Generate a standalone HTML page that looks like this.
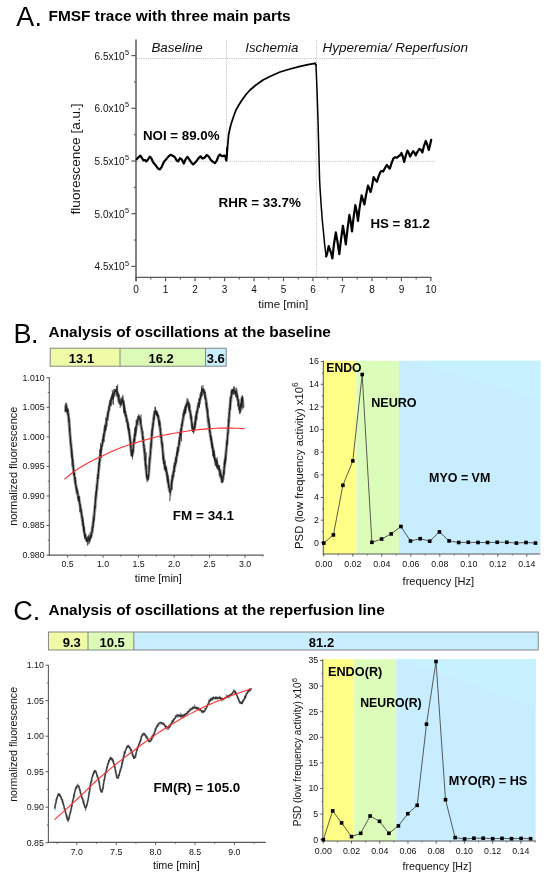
<!DOCTYPE html>
<html><head><meta charset="utf-8"><title>FMSF figure</title>
<style>html,body{margin:0;padding:0;background:#fff;width:550px;height:879px;overflow:hidden}
svg{display:block}
</style></head><body>
<svg width="550" height="879" viewBox="0 0 550 879" font-family="'Liberation Sans', Arial, Helvetica, sans-serif">
<text x="16.3" y="25.7" font-size="27" fill="#000">A</text>
<text x="34.5" y="25.7" font-size="27" fill="#000">.</text>
<text x="48.6" y="20.6" font-size="15.4" font-weight="bold" fill="#000">FMSF trace with three main parts</text>
<line x1="137" y1="58.5" x2="436" y2="58.5" stroke="#b5b5b5" stroke-width="0.9" stroke-dasharray="1,1.2"/>
<line x1="137" y1="161.3" x2="436" y2="161.3" stroke="#b5b5b5" stroke-width="0.9" stroke-dasharray="1,1.2"/>
<line x1="226.5" y1="40" x2="226.5" y2="161.3" stroke="#b5b5b5" stroke-width="0.9" stroke-dasharray="1,1.2"/>
<line x1="316.4" y1="40" x2="316.4" y2="277" stroke="#b5b5b5" stroke-width="0.9" stroke-dasharray="1,1.2"/>
<line x1="136" y1="39.5" x2="136" y2="281.3" stroke="#6e6e6e" stroke-width="1.7"/>
<line x1="135.6" y1="277.3" x2="431.4" y2="277.3" stroke="#5a5a5a" stroke-width="1.3"/>
<line x1="131.4" y1="55.6" x2="136.2" y2="55.6" stroke="#5a5a5a" stroke-width="1.2"/>
<text x="124.6" y="59.6" font-size="10" text-anchor="end" fill="#111">6.5x10</text>
<text x="125.0" y="54.7" font-size="7.4" fill="#111">5</text>
<line x1="131.4" y1="108.3" x2="136.2" y2="108.3" stroke="#5a5a5a" stroke-width="1.2"/>
<text x="124.6" y="112.3" font-size="10" text-anchor="end" fill="#111">6.0x10</text>
<text x="125.0" y="107.4" font-size="7.4" fill="#111">5</text>
<line x1="131.4" y1="161" x2="136.2" y2="161" stroke="#5a5a5a" stroke-width="1.2"/>
<text x="124.6" y="165" font-size="10" text-anchor="end" fill="#111">5.5x10</text>
<text x="125.0" y="160.1" font-size="7.4" fill="#111">5</text>
<line x1="131.4" y1="213.7" x2="136.2" y2="213.7" stroke="#5a5a5a" stroke-width="1.2"/>
<text x="124.6" y="217.7" font-size="10" text-anchor="end" fill="#111">5.0x10</text>
<text x="125.0" y="212.8" font-size="7.4" fill="#111">5</text>
<line x1="131.4" y1="266.4" x2="136.2" y2="266.4" stroke="#5a5a5a" stroke-width="1.2"/>
<text x="124.6" y="270.4" font-size="10" text-anchor="end" fill="#111">4.5x10</text>
<text x="125.0" y="265.5" font-size="7.4" fill="#111">5</text>
<line x1="133.9" y1="81.95" x2="136.2" y2="81.95" stroke="#5a5a5a" stroke-width="1.1"/>
<line x1="133.9" y1="134.65" x2="136.2" y2="134.65" stroke="#5a5a5a" stroke-width="1.1"/>
<line x1="133.9" y1="187.35" x2="136.2" y2="187.35" stroke="#5a5a5a" stroke-width="1.1"/>
<line x1="133.9" y1="240.05" x2="136.2" y2="240.05" stroke="#5a5a5a" stroke-width="1.1"/>
<line x1="136.1" y1="277.3" x2="136.1" y2="281.3" stroke="#5a5a5a" stroke-width="1.2"/>
<text x="136.1" y="293.1" font-size="10" text-anchor="middle" fill="#111">0</text>
<line x1="165.58" y1="277.3" x2="165.58" y2="281.3" stroke="#5a5a5a" stroke-width="1.2"/>
<text x="165.58" y="293.1" font-size="10" text-anchor="middle" fill="#111">1</text>
<line x1="195.06" y1="277.3" x2="195.06" y2="281.3" stroke="#5a5a5a" stroke-width="1.2"/>
<text x="195.06" y="293.1" font-size="10" text-anchor="middle" fill="#111">2</text>
<line x1="224.54" y1="277.3" x2="224.54" y2="281.3" stroke="#5a5a5a" stroke-width="1.2"/>
<text x="224.54" y="293.1" font-size="10" text-anchor="middle" fill="#111">3</text>
<line x1="254.02" y1="277.3" x2="254.02" y2="281.3" stroke="#5a5a5a" stroke-width="1.2"/>
<text x="254.02" y="293.1" font-size="10" text-anchor="middle" fill="#111">4</text>
<line x1="283.5" y1="277.3" x2="283.5" y2="281.3" stroke="#5a5a5a" stroke-width="1.2"/>
<text x="283.5" y="293.1" font-size="10" text-anchor="middle" fill="#111">5</text>
<line x1="312.98" y1="277.3" x2="312.98" y2="281.3" stroke="#5a5a5a" stroke-width="1.2"/>
<text x="312.98" y="293.1" font-size="10" text-anchor="middle" fill="#111">6</text>
<line x1="342.46" y1="277.3" x2="342.46" y2="281.3" stroke="#5a5a5a" stroke-width="1.2"/>
<text x="342.46" y="293.1" font-size="10" text-anchor="middle" fill="#111">7</text>
<line x1="371.94" y1="277.3" x2="371.94" y2="281.3" stroke="#5a5a5a" stroke-width="1.2"/>
<text x="371.94" y="293.1" font-size="10" text-anchor="middle" fill="#111">8</text>
<line x1="401.42" y1="277.3" x2="401.42" y2="281.3" stroke="#5a5a5a" stroke-width="1.2"/>
<text x="401.42" y="293.1" font-size="10" text-anchor="middle" fill="#111">9</text>
<line x1="430.9" y1="277.3" x2="430.9" y2="281.3" stroke="#5a5a5a" stroke-width="1.2"/>
<text x="430.9" y="293.1" font-size="10" text-anchor="middle" fill="#111">10</text>
<line x1="150.84" y1="277.3" x2="150.84" y2="279.5" stroke="#5a5a5a" stroke-width="1.1"/>
<line x1="180.32" y1="277.3" x2="180.32" y2="279.5" stroke="#5a5a5a" stroke-width="1.1"/>
<line x1="209.8" y1="277.3" x2="209.8" y2="279.5" stroke="#5a5a5a" stroke-width="1.1"/>
<line x1="239.28" y1="277.3" x2="239.28" y2="279.5" stroke="#5a5a5a" stroke-width="1.1"/>
<line x1="268.76" y1="277.3" x2="268.76" y2="279.5" stroke="#5a5a5a" stroke-width="1.1"/>
<line x1="298.24" y1="277.3" x2="298.24" y2="279.5" stroke="#5a5a5a" stroke-width="1.1"/>
<line x1="327.72" y1="277.3" x2="327.72" y2="279.5" stroke="#5a5a5a" stroke-width="1.1"/>
<line x1="357.2" y1="277.3" x2="357.2" y2="279.5" stroke="#5a5a5a" stroke-width="1.1"/>
<line x1="386.68" y1="277.3" x2="386.68" y2="279.5" stroke="#5a5a5a" stroke-width="1.1"/>
<line x1="416.16" y1="277.3" x2="416.16" y2="279.5" stroke="#5a5a5a" stroke-width="1.1"/>
<text x="283.3" y="307.5" font-size="11.55" text-anchor="middle" fill="#111">time [min]</text>
<text transform="translate(80.0,158.9) rotate(-90)" font-size="13.6" text-anchor="middle" fill="#111">fluorescence [a.u.]</text>
<text x="151.4" y="52.1" font-size="13.4" font-style="italic" fill="#111">Baseline</text>
<text x="245.2" y="52.3" font-size="13.3" font-style="italic" fill="#111">Ischemia</text>
<text x="322.4" y="52" font-size="13.5" font-style="italic" fill="#111">Hyperemia/ Reperfusion</text>
<text x="143" y="139.5" font-size="13.3" font-weight="bold" fill="#000">NOI = 89.0%</text>
<text x="218.6" y="206.9" font-size="13.4" font-weight="bold" fill="#000">RHR = 33.7%</text>
<text x="370.4" y="227.5" font-size="13.3" font-weight="bold" fill="#000">HS = 81.2</text>
<polyline points="136.7,159.1 138.1,157.7 140.4,155.7 141.7,157.7 143.5,160.5 144.9,160 146.3,161.4 147.6,160 149.9,156.6 151.3,158.2 153.1,162.3 155.8,165.5 158.1,168.6 159.9,169.4 161.7,166.8 164,161.8 166.3,159.1 169,155.9 170.8,154.8 173.1,155.9 174.9,157.3 176.7,160.5 178.1,161.4 179.9,158.2 181.8,159.5 183.8,163.6 185.5,159.5 187.3,156.8 189.1,159.1 191.4,162.7 193.2,164.4 195.5,162.3 198.2,158.6 200.5,156.4 202.7,158.6 204.5,157.7 206.8,155 208.6,156.4 210.5,159.5 212.7,161.6 215,163.2 216.8,160.5 218.6,155.9 220,154.5 221.4,155.9 222.7,156.2 224.1,155.5 225.5,156.4 225.9,159.5 226.4,160.5 226.8,155.5 227.3,148" fill="none" stroke="#000" stroke-width="2.2" stroke-linejoin="round" stroke-linecap="round"/>
<polyline points="226.8,155.5 227.3,148 227.7,145.5 228.1,141 228.6,135 229.6,130 230.8,125 232.4,120 234.1,115 236,110 238.8,105 242,100 246.4,94 250,90 256,85 263,80 271,76 280,72 290,69 300,66.4 308,64.6 315,63.3 316,65" fill="none" stroke="#000" stroke-width="1.75" stroke-linejoin="round" stroke-linecap="round"/>
<polyline points="315,63.3 316,65 317,90 318,120 318.8,150 319.6,180 320.2,190.9 321.3,207.3 322.4,221.5 323.5,232.4 324.5,243.3 325.6,252 326.2,256.4" fill="none" stroke="#000" stroke-width="1.5" stroke-linejoin="round" stroke-linecap="round"/>
<polyline points="326.2,256.4 327.3,253.1 328.7,246 330,249.8 331.1,253.1 332.4,258.5 333.8,245.5 335.8,232.4 337.4,241.1 339.3,254.2 341.1,238.9 342.9,225.8 344.4,234.5 345.8,244.4 347.5,229.1 349.4,214.9 350.7,221.5 352,231.3 353.5,218.2 355.3,205.1 356.7,211.6 358,220.9 359.5,208.4 361.6,195.3 362.9,199.6 364.4,204.5 366,195.3 368,185.5 369.3,188.7 370.6,192 372,186.5 373.6,177 375.4,180 377,181.8 378.6,176.4 380.6,171.6 382,171 383.2,171.6 385,168 386.8,165 388.6,167.4 389.8,168.6 391.6,163.2 393.4,158.4 395.2,157.2 397,157.8 398.8,156 400,155.4 401.4,153 402.6,156 404.2,162 405.8,155.4 407.4,150.6 409,153.6 410.2,156.6 412,153 413.2,151.2 414.6,153 415.8,155.4 417.4,151.8 419.4,148.8 421,150 422.4,152.4 424,145.8 425.8,141 427.4,145.2 428.8,150 430,145.2 431.2,139.8" fill="none" stroke="#000" stroke-width="2.2" stroke-linejoin="round" stroke-linecap="round"/>
<text x="13.6" y="342.5" font-size="27" fill="#000">B</text>
<text x="31.1" y="342.5" font-size="27" fill="#000">.</text>
<text x="48.6" y="336.6" font-size="15.4" font-weight="bold" fill="#000">Analysis of oscillations at the baseline</text>
<rect x="50.2" y="348.2" width="69.8" height="18" fill="#effba6" stroke="none" stroke-width="0"/>
<rect x="120" y="348.2" width="85.5" height="18" fill="#dcfbb9" stroke="none" stroke-width="0"/>
<rect x="205.5" y="348.2" width="20.7" height="18" fill="#c8edfd" stroke="none" stroke-width="0"/>
<rect x="50.2" y="348.2" width="176" height="18" fill="none" stroke="#7a7a7a" stroke-width="0.9"/>
<line x1="120" y1="348.2" x2="120" y2="366.2" stroke="#7a7a7a" stroke-width="0.9"/>
<line x1="205.5" y1="348.2" x2="205.5" y2="366.2" stroke="#7a7a7a" stroke-width="0.9"/>
<text x="81.5" y="362.5" font-size="13" font-weight="bold" text-anchor="middle" fill="#000">13.1</text>
<text x="161.2" y="362.5" font-size="13" font-weight="bold" text-anchor="middle" fill="#000">16.2</text>
<text x="215.8" y="362.5" font-size="13" font-weight="bold" text-anchor="middle" fill="#000">3.6</text>
<line x1="49.3" y1="377" x2="49.3" y2="555.7" stroke="#5a5a5a" stroke-width="1.1"/>
<line x1="48.8" y1="555.1" x2="263.6" y2="555.1" stroke="#5a5a5a" stroke-width="1.1"/>
<line x1="46.5" y1="555.1" x2="49.3" y2="555.1" stroke="#5a5a5a" stroke-width="1.0"/>
<text x="44.6" y="557.9" font-size="8.8" text-anchor="end" fill="#111">0.980</text>
<line x1="46.5" y1="525.53" x2="49.3" y2="525.53" stroke="#5a5a5a" stroke-width="1.0"/>
<text x="44.6" y="528.33" font-size="8.8" text-anchor="end" fill="#111">0.985</text>
<line x1="46.5" y1="495.97" x2="49.3" y2="495.97" stroke="#5a5a5a" stroke-width="1.0"/>
<text x="44.6" y="498.77" font-size="8.8" text-anchor="end" fill="#111">0.990</text>
<line x1="46.5" y1="466.4" x2="49.3" y2="466.4" stroke="#5a5a5a" stroke-width="1.0"/>
<text x="44.6" y="469.2" font-size="8.8" text-anchor="end" fill="#111">0.995</text>
<line x1="46.5" y1="436.84" x2="49.3" y2="436.84" stroke="#5a5a5a" stroke-width="1.0"/>
<text x="44.6" y="439.64" font-size="8.8" text-anchor="end" fill="#111">1.000</text>
<line x1="46.5" y1="407.28" x2="49.3" y2="407.28" stroke="#5a5a5a" stroke-width="1.0"/>
<text x="44.6" y="410.08" font-size="8.8" text-anchor="end" fill="#111">1.005</text>
<line x1="46.5" y1="377.71" x2="49.3" y2="377.71" stroke="#5a5a5a" stroke-width="1.0"/>
<text x="44.6" y="380.51" font-size="8.8" text-anchor="end" fill="#111">1.010</text>
<line x1="47.8" y1="540.32" x2="49.3" y2="540.32" stroke="#5a5a5a" stroke-width="0.9"/>
<line x1="47.8" y1="510.75" x2="49.3" y2="510.75" stroke="#5a5a5a" stroke-width="0.9"/>
<line x1="47.8" y1="481.19" x2="49.3" y2="481.19" stroke="#5a5a5a" stroke-width="0.9"/>
<line x1="47.8" y1="451.62" x2="49.3" y2="451.62" stroke="#5a5a5a" stroke-width="0.9"/>
<line x1="47.8" y1="422.06" x2="49.3" y2="422.06" stroke="#5a5a5a" stroke-width="0.9"/>
<line x1="47.8" y1="392.49" x2="49.3" y2="392.49" stroke="#5a5a5a" stroke-width="0.9"/>
<line x1="67.6" y1="555.1" x2="67.6" y2="557.7" stroke="#5a5a5a" stroke-width="1.0"/>
<text x="67.6" y="567.2" font-size="8.8" text-anchor="middle" fill="#111">0.5</text>
<line x1="103.1" y1="555.1" x2="103.1" y2="557.7" stroke="#5a5a5a" stroke-width="1.0"/>
<text x="103.1" y="567.2" font-size="8.8" text-anchor="middle" fill="#111">1.0</text>
<line x1="138.6" y1="555.1" x2="138.6" y2="557.7" stroke="#5a5a5a" stroke-width="1.0"/>
<text x="138.6" y="567.2" font-size="8.8" text-anchor="middle" fill="#111">1.5</text>
<line x1="174.1" y1="555.1" x2="174.1" y2="557.7" stroke="#5a5a5a" stroke-width="1.0"/>
<text x="174.1" y="567.2" font-size="8.8" text-anchor="middle" fill="#111">2.0</text>
<line x1="209.6" y1="555.1" x2="209.6" y2="557.7" stroke="#5a5a5a" stroke-width="1.0"/>
<text x="209.6" y="567.2" font-size="8.8" text-anchor="middle" fill="#111">2.5</text>
<line x1="245.1" y1="555.1" x2="245.1" y2="557.7" stroke="#5a5a5a" stroke-width="1.0"/>
<text x="245.1" y="567.2" font-size="8.8" text-anchor="middle" fill="#111">3.0</text>
<line x1="85.35" y1="555.1" x2="85.35" y2="556.6" stroke="#5a5a5a" stroke-width="0.9"/>
<line x1="120.85" y1="555.1" x2="120.85" y2="556.6" stroke="#5a5a5a" stroke-width="0.9"/>
<line x1="156.35" y1="555.1" x2="156.35" y2="556.6" stroke="#5a5a5a" stroke-width="0.9"/>
<line x1="191.85" y1="555.1" x2="191.85" y2="556.6" stroke="#5a5a5a" stroke-width="0.9"/>
<line x1="227.35" y1="555.1" x2="227.35" y2="556.6" stroke="#5a5a5a" stroke-width="0.9"/>
<line x1="262.85" y1="555.1" x2="262.85" y2="556.6" stroke="#5a5a5a" stroke-width="0.9"/>
<text x="158.3" y="582.4" font-size="10.9" text-anchor="middle" fill="#111">time [min]</text>
<text transform="translate(16.9,466.2) rotate(-90)" font-size="11" text-anchor="middle" fill="#111">normalized fluorescence</text>
<polyline points="65.6,411.13 65.74,408.7 65.88,406.67 66.02,405.45 66.16,405.33 66.3,405.74 66.44,406.41 66.58,407.26 66.72,408.18 66.86,409.07 67,409.84 67.14,410.47 67.28,411.05 67.42,411.59 67.56,412.1 67.7,412.61 67.84,413.14 67.98,413.72 68.12,414.36 68.26,415.11 68.4,416.05 68.54,417.18 68.68,418.49 68.82,419.94 68.96,421.52 69.1,423.2 69.24,424.95 69.38,426.76 69.52,428.59 69.66,430.42 69.8,432.22 69.94,433.96 70.08,435.62 70.22,437.16 70.36,438.66 70.5,440.14 70.64,441.62 70.78,443.09 70.92,444.54 71.06,445.98 71.2,447.41 71.34,448.83 71.48,450.24 71.62,451.63 71.76,453.01 71.9,454.38 72.04,455.74 72.18,457.09 72.32,458.42 72.46,459.75 72.6,461.08 72.74,462.41 72.88,463.72 73.02,465.03 73.16,466.31 73.3,467.58 73.44,468.82 73.58,470.03 73.72,471.21 73.86,472.36 74,473.46 74.14,474.51 74.28,475.53 74.42,476.49 74.56,477.43 74.7,478.34 74.84,479.23 74.98,480.09 75.12,480.93 75.26,481.75 75.4,482.55 75.54,483.33 75.68,484.1 75.82,484.86 75.96,485.6 76.1,486.33 76.24,487.04 76.38,487.74 76.52,488.42 76.66,489.1 76.8,489.76 76.94,490.42 77.08,491.08 77.22,491.74 77.36,492.4 77.5,493.06 77.64,493.72 77.78,494.37 77.92,495.02 78.06,495.68 78.2,496.33 78.34,496.99 78.48,497.66 78.62,498.34 78.76,499.01 78.9,499.7 79.04,500.39 79.18,501.08 79.32,501.78 79.46,502.48 79.6,503.18 79.74,503.89 79.88,504.6 80.02,505.32 80.16,506.04 80.3,506.78 80.44,507.53 80.58,508.3 80.72,509.1 80.86,509.94 81,510.81 81.14,511.71 81.28,512.63 81.42,513.58 81.56,514.54 81.7,515.53 81.84,516.52 81.98,517.52 82.12,518.53 82.26,519.53 82.4,520.52 82.54,521.49 82.68,522.45 82.82,523.37 82.96,524.27 83.1,525.13 83.24,525.99 83.38,526.86 83.52,527.71 83.66,528.56 83.8,529.39 83.94,530.2 84.08,530.98 84.22,531.74 84.36,532.46 84.5,533.15 84.64,533.8 84.78,534.41 84.92,534.97 85.06,535.49 85.2,535.96 85.34,536.38 85.48,536.79 85.62,537.19 85.76,537.58 85.9,537.97 86.04,538.35 86.18,538.7 86.32,539.04 86.46,539.36 86.6,539.65 86.74,539.9 86.88,540.13 87.02,540.32 87.16,540.47 87.3,540.58 87.44,540.64 87.58,540.66 87.72,540.63 87.86,540.56 88,540.46 88.14,540.36 88.28,540.25 88.42,540.13 88.56,540 88.7,539.86 88.84,539.72 88.98,539.56 89.12,539.39 89.26,539.22 89.4,539.04 89.54,538.85 89.68,538.67 89.82,538.49 89.96,538.32 90.1,538.15 90.24,538 90.38,537.87 90.52,537.7 90.66,537.45 90.8,537.11 90.94,536.69 91.08,536.2 91.22,535.64 91.36,535.02 91.5,534.34 91.64,533.61 91.78,532.83 91.92,532.01 92.06,531.16 92.2,530.29 92.34,529.41 92.48,528.52 92.62,527.65 92.76,526.73 92.9,525.73 93.04,524.67 93.18,523.56 93.32,522.4 93.46,521.2 93.6,519.96 93.74,518.71 93.88,517.43 94.02,516.14 94.16,514.84 94.3,513.55 94.44,512.26 94.58,510.97 94.72,509.65 94.86,508.3 95,506.92 95.14,505.51 95.28,504.08 95.42,502.63 95.56,501.16 95.7,499.69 95.84,498.21 95.98,496.73 96.12,495.25 96.26,493.78 96.4,492.33 96.54,490.89 96.68,489.47 96.82,488.06 96.96,486.63 97.1,485.21 97.24,483.8 97.38,482.39 97.52,480.98 97.66,479.58 97.8,478.19 97.94,476.81 98.08,475.43 98.22,474.06 98.36,472.7 98.5,471.35 98.64,470.01 98.78,468.67 98.92,467.35 99.06,466.05 99.2,464.76 99.34,463.48 99.48,462.21 99.62,460.95 99.76,459.7 99.9,458.47 100.04,457.28 100.18,456.11 100.32,454.98 100.46,453.89 100.6,452.85 100.74,451.86 100.88,450.92 101.02,450.03 101.16,449.2 101.3,448.42 101.44,447.68 101.58,446.96 101.72,446.27 101.86,445.6 102,444.95 102.14,444.29 102.28,443.65 102.42,442.99 102.56,442.33 102.7,441.66 102.84,440.98 102.98,440.28 103.12,439.57 103.26,438.84 103.4,438.11 103.54,437.36 103.68,436.6 103.82,435.83 103.96,435.05 104.1,434.27 104.24,433.49 104.38,432.72 104.52,431.95 104.66,431.19 104.8,430.44 104.94,429.69 105.08,428.95 105.22,428.22 105.36,427.49 105.5,426.77 105.64,426.05 105.78,425.34 105.92,424.63 106.06,423.92 106.2,423.22 106.34,422.51 106.48,421.8 106.62,421.09 106.76,420.37 106.9,419.64 107.04,418.91 107.18,418.17 107.32,417.42 107.46,416.66 107.6,415.9 107.74,415.14 107.88,414.38 108.02,413.62 108.16,412.88 108.3,412.15 108.44,411.43 108.58,410.72 108.72,410.02 108.86,409.34 109,408.67 109.14,408.02 109.28,407.37 109.42,406.73 109.56,406.1 109.7,405.48 109.84,404.88 109.98,404.29 110.12,403.71 110.26,403.15 110.4,402.6 110.54,402.06 110.68,401.52 110.82,401 110.96,400.5 111.1,400.01 111.24,399.54 111.38,399.09 111.52,398.66 111.66,398.24 111.8,397.85 111.94,397.46 112.08,397.1 112.22,396.75 112.36,396.41 112.5,396.09 112.64,395.78 112.78,395.48 112.92,395.2 113.06,394.93 113.2,394.68 113.34,394.44 113.48,394.19 113.62,393.92 113.76,393.65 113.9,393.36 114.04,393.07 114.18,392.77 114.32,392.47 114.46,392.17 114.6,391.87 114.74,391.58 114.88,391.3 115.02,391.04 115.16,390.81 115.3,390.6 115.44,390.43 115.58,390.3 115.72,390.22 115.86,390.21 116,390.26 116.14,390.38 116.28,390.55 116.42,390.78 116.56,391.06 116.7,391.39 116.84,391.75 116.98,392.14 117.12,392.55 117.26,392.97 117.4,393.4 117.54,393.83 117.68,394.26 117.82,394.67 117.96,395.07 118.1,395.45 118.24,395.82 118.38,396.17 118.52,396.54 118.66,396.99 118.8,397.52 118.94,398.1 119.08,398.73 119.22,399.38 119.36,400.05 119.5,400.72 119.64,401.37 119.78,401.97 119.92,402.52 120.06,402.99 120.2,403.37 120.34,403.63 120.48,403.75 120.62,403.73 120.76,403.62 120.9,403.42 121.04,403.15 121.18,402.81 121.32,402.44 121.46,402.04 121.6,401.63 121.74,401.24 121.88,400.86 122.02,400.53 122.16,400.27 122.3,400.08 122.44,399.98 122.58,400.01 122.72,400.19 122.86,400.51 123,400.97 123.14,401.54 123.28,402.2 123.42,402.95 123.56,403.76 123.7,404.62 123.84,405.5 123.98,406.39 124.12,407.28 124.26,408.13 124.4,408.94 124.54,409.69 124.68,410.41 124.82,411.13 124.96,411.84 125.1,412.54 125.24,413.22 125.38,413.89 125.52,414.55 125.66,415.19 125.8,415.81 125.94,416.41 126.08,417 126.22,417.58 126.36,418.15 126.5,418.72 126.64,419.28 126.78,419.84 126.92,420.39 127.06,420.95 127.2,421.52 127.34,422.1 127.48,422.7 127.62,423.33 127.76,423.98 127.9,424.66 128.04,425.38 128.18,426.13 128.32,426.91 128.46,427.72 128.6,428.56 128.74,429.43 128.88,430.32 129.02,431.23 129.16,432.15 129.3,433.09 129.44,434.04 129.58,435.01 129.72,435.98 129.86,437.07 130,438.31 130.14,439.69 130.28,441.15 130.42,442.68 130.56,444.24 130.7,445.8 130.84,447.34 130.98,448.82 131.12,450.22 131.26,451.51 131.4,452.66 131.54,453.65 131.68,454.45 131.82,455.02 131.96,455.34 132.1,455.38 132.24,455.14 132.38,454.66 132.52,453.98 132.66,453.12 132.8,452.11 132.94,450.98 133.08,449.76 133.22,448.48 133.36,447.17 133.5,445.84 133.64,444.54 133.78,443.28 133.92,442.11 134.06,441.03 134.2,440.09 134.34,439.23 134.48,438.35 134.62,437.48 134.76,436.6 134.9,435.72 135.04,434.84 135.18,433.96 135.32,433.09 135.46,432.22 135.6,431.35 135.74,430.5 135.88,429.66 136.02,428.83 136.16,428.03 136.3,427.24 136.44,426.49 136.58,425.77 136.72,425.08 136.86,424.43 137,423.76 137.14,423.08 137.28,422.4 137.42,421.72 137.56,421.06 137.7,420.42 137.84,419.83 137.98,419.28 138.12,418.78 138.26,418.34 138.4,417.97 138.54,417.68 138.68,417.48 138.82,417.37 138.96,417.37 139.1,417.49 139.24,417.71 139.38,418.04 139.52,418.45 139.66,418.94 139.8,419.49 139.94,420.1 140.08,420.76 140.22,421.45 140.36,422.17 140.5,422.9 140.64,423.63 140.78,424.35 140.92,425.05 141.06,425.77 141.2,426.52 141.34,427.31 141.48,428.13 141.62,428.99 141.76,429.88 141.9,430.8 142.04,431.75 142.18,432.72 142.32,433.73 142.46,434.75 142.6,435.8 142.74,436.87 142.88,437.95 143.02,439.05 143.16,440.15 143.3,441.26 143.44,442.37 143.58,443.48 143.72,444.58 143.86,445.67 144,446.75 144.14,447.88 144.28,449.11 144.42,450.42 144.56,451.8 144.7,453.26 144.84,454.77 144.98,456.32 145.12,457.92 145.26,459.55 145.4,461.19 145.54,462.85 145.68,464.49 145.82,466.12 145.96,467.71 146.1,469.26 146.24,470.74 146.38,472.14 146.52,473.45 146.66,474.66 146.8,475.74 146.94,476.69 147.08,477.49 147.22,478.14 147.36,478.62 147.5,478.92 147.64,479.04 147.78,478.96 147.92,478.62 148.06,478.04 148.2,477.25 148.34,476.27 148.48,475.13 148.62,473.83 148.76,472.42 148.9,470.89 149.04,469.29 149.18,467.61 149.32,465.9 149.46,464.16 149.6,462.41 149.74,460.68 149.88,458.99 150.02,457.36 150.16,455.81 150.3,454.31 150.44,452.73 150.58,451.07 150.72,449.34 150.86,447.57 151,445.77 151.14,443.95 151.28,442.12 151.42,440.31 151.56,438.52 151.7,436.78 151.84,435.08 151.98,433.46 152.12,431.91 152.26,430.45 152.4,429.11 152.54,427.88 152.68,426.75 152.82,425.61 152.96,424.46 153.1,423.29 153.24,422.12 153.38,420.97 153.52,419.83 153.66,418.72 153.8,417.65 153.94,416.62 154.08,415.66 154.22,414.76 154.36,413.95 154.5,413.22 154.64,412.58 154.78,412.06 154.92,411.65 155.06,411.37 155.2,411.22 155.34,411.21 155.48,411.26 155.62,411.36 155.76,411.48 155.9,411.64 156.04,411.83 156.18,412.05 156.32,412.29 156.46,412.55 156.6,412.84 156.74,413.14 156.88,413.46 157.02,413.8 157.16,414.14 157.3,414.49 157.44,414.86 157.58,415.22 157.72,415.6 157.86,415.97 158,416.36 158.14,416.74 158.28,417.14 158.42,417.62 158.56,418.18 158.7,418.81 158.84,419.51 158.98,420.28 159.12,421.11 159.26,422 159.4,422.94 159.54,423.93 159.68,424.96 159.82,426.03 159.96,427.13 160.1,428.26 160.24,429.4 160.38,430.56 160.52,431.72 160.66,432.88 160.8,434.03 160.94,435.17 161.08,436.29 161.22,437.39 161.36,438.47 161.5,439.57 161.64,440.71 161.78,441.89 161.92,443.09 162.06,444.33 162.2,445.58 162.34,446.85 162.48,448.14 162.62,449.43 162.76,450.73 162.9,452.02 163.04,453.3 163.18,454.56 163.32,455.79 163.46,456.99 163.6,458.15 163.74,459.26 163.88,460.31 164.02,461.3 164.16,462.22 164.3,463.07 164.44,463.85 164.58,464.59 164.72,465.28 164.86,465.94 165,466.56 165.14,467.15 165.28,467.71 165.42,468.27 165.56,468.81 165.7,469.34 165.84,469.87 165.98,470.41 166.12,470.96 166.26,471.52 166.4,472.09 166.54,472.68 166.68,473.28 166.82,473.9 166.96,474.55 167.1,475.21 167.24,475.89 167.38,476.59 167.52,477.33 167.66,478.15 167.8,479.03 167.94,479.96 168.08,480.93 168.22,481.93 168.36,482.94 168.5,483.96 168.64,484.97 168.78,485.96 168.92,486.91 169.06,487.83 169.2,488.68 169.34,489.46 169.48,490.14 169.62,490.73 169.76,491.2 169.9,491.53 170.04,491.72 170.18,491.75 170.32,491.57 170.46,491.21 170.6,490.69 170.74,490.02 170.88,489.22 171.02,488.32 171.16,487.34 171.3,486.3 171.44,485.22 171.58,484.11 171.72,483.01 171.86,481.92 172,480.87 172.14,479.87 172.28,478.94 172.42,478.1 172.56,477.35 172.7,476.64 172.84,475.93 172.98,475.24 173.12,474.55 173.26,473.87 173.4,473.19 173.54,472.52 173.68,471.84 173.82,471.18 173.96,470.51 174.1,469.85 174.24,469.18 174.38,468.52 174.52,467.86 174.66,467.2 174.8,466.53 174.94,465.86 175.08,465.17 175.22,464.48 175.36,463.78 175.5,463.07 175.64,462.34 175.78,461.6 175.92,460.86 176.06,460.12 176.2,459.38 176.34,458.64 176.48,457.89 176.62,457.15 176.76,456.42 176.9,455.68 177.04,454.96 177.18,454.23 177.32,453.51 177.46,452.79 177.6,452.07 177.74,451.35 177.88,450.62 178.02,449.9 178.16,449.16 178.3,448.42 178.44,447.67 178.58,446.91 178.72,446.13 178.86,445.33 179,444.5 179.14,443.64 179.28,442.75 179.42,441.83 179.56,440.89 179.7,439.94 179.84,438.96 179.98,437.98 180.12,436.98 180.26,435.98 180.4,434.98 180.54,433.99 180.68,433 180.82,432.04 180.96,431.09 181.1,430.16 181.24,429.27 181.38,428.4 181.52,427.56 181.66,426.75 181.8,425.98 181.94,425.22 182.08,424.45 182.22,423.69 182.36,422.91 182.5,422.14 182.64,421.36 182.78,420.58 182.92,419.8 183.06,419.02 183.2,418.24 183.34,417.47 183.48,416.71 183.62,415.96 183.76,415.23 183.9,414.52 184.04,413.83 184.18,413.16 184.32,412.53 184.46,411.93 184.6,411.36 184.74,410.83 184.88,410.34 185.02,409.84 185.16,409.33 185.3,408.83 185.44,408.32 185.58,407.82 185.72,407.33 185.86,406.84 186,406.37 186.14,405.91 186.28,405.46 186.42,405.04 186.56,404.63 186.7,404.25 186.84,403.89 186.98,403.56 187.12,403.26 187.26,403 187.4,402.76 187.54,402.57 187.68,402.42 187.82,402.31 187.96,402.26 188.1,402.34 188.24,402.55 188.38,402.88 188.52,403.32 188.66,403.86 188.8,404.48 188.94,405.17 189.08,405.91 189.22,406.71 189.36,407.54 189.5,408.39 189.64,409.26 189.78,410.13 189.92,411.01 190.06,411.87 190.2,412.7 190.34,413.51 190.48,414.27 190.62,414.98 190.76,415.72 190.9,416.52 191.04,417.38 191.18,418.29 191.32,419.24 191.46,420.21 191.6,421.19 191.74,422.18 191.88,423.15 192.02,424.1 192.16,425.02 192.3,425.88 192.44,426.7 192.58,427.44 192.72,428.11 192.86,428.69 193,429.19 193.14,429.59 193.28,429.88 193.42,430.07 193.56,430.14 193.7,430.09 193.84,429.91 193.98,429.62 194.12,429.21 194.26,428.71 194.4,428.13 194.54,427.47 194.68,426.74 194.82,425.95 194.96,425.12 195.1,424.24 195.24,423.33 195.38,422.4 195.52,421.45 195.66,420.48 195.8,419.52 195.94,418.57 196.08,417.62 196.22,416.71 196.36,415.83 196.5,414.99 196.64,414.2 196.78,413.47 196.92,412.73 197.06,411.97 197.2,411.22 197.34,410.46 197.48,409.7 197.62,408.95 197.76,408.21 197.9,407.49 198.04,406.78 198.18,406.1 198.32,405.44 198.46,404.81 198.6,404.2 198.74,403.62 198.88,403.06 199.02,402.52 199.16,401.99 199.3,401.49 199.44,400.99 199.58,400.51 199.72,400.03 199.86,399.56 200,399.1 200.14,398.64 200.28,398.18 200.42,397.7 200.56,397.18 200.7,396.65 200.84,396.09 200.98,395.53 201.12,394.96 201.26,394.39 201.4,393.83 201.54,393.28 201.68,392.75 201.82,392.25 201.96,391.78 202.1,391.34 202.24,390.94 202.38,390.59 202.52,390.28 202.66,390.03 202.8,389.83 202.94,389.68 203.08,389.59 203.22,389.56 203.36,389.59 203.5,389.72 203.64,389.95 203.78,390.27 203.92,390.66 204.06,391.12 204.2,391.64 204.34,392.21 204.48,392.81 204.62,393.45 204.76,394.11 204.9,394.79 205.04,395.48 205.18,396.17 205.32,396.88 205.46,397.58 205.6,398.27 205.74,398.97 205.88,399.74 206.02,400.62 206.16,401.59 206.3,402.64 206.44,403.78 206.58,404.98 206.72,406.24 206.86,407.54 207,408.88 207.14,410.25 207.28,411.62 207.42,412.99 207.56,414.35 207.7,415.69 207.84,416.99 207.98,418.25 208.12,419.45 208.26,420.59 208.4,421.66 208.54,422.68 208.68,423.68 208.82,424.68 208.96,425.66 209.1,426.63 209.24,427.59 209.38,428.53 209.52,429.47 209.66,430.39 209.8,431.3 209.94,432.2 210.08,433.09 210.22,433.97 210.36,434.83 210.5,435.69 210.64,436.54 210.78,437.37 210.92,438.2 211.06,439.01 211.2,439.82 211.34,440.61 211.48,441.4 211.62,442.18 211.76,442.96 211.9,443.75 212.04,444.54 212.18,445.33 212.32,446.13 212.46,446.93 212.6,447.72 212.74,448.52 212.88,449.31 213.02,450.1 213.16,450.87 213.3,451.64 213.44,452.4 213.58,453.14 213.72,453.86 213.86,454.57 214,455.25 214.14,455.91 214.28,456.55 214.42,457.16 214.56,457.75 214.7,458.31 214.84,458.85 214.98,459.37 215.12,459.86 215.26,460.34 215.4,460.8 215.54,461.25 215.68,461.68 215.82,462.1 215.96,462.52 216.1,462.92 216.24,463.31 216.38,463.7 216.52,464.08 216.66,464.45 216.8,464.81 216.94,465.16 217.08,465.5 217.22,465.82 217.36,466.12 217.5,466.41 217.64,466.67 217.78,466.92 217.92,467.14 218.06,467.35 218.2,467.55 218.34,467.73 218.48,467.91 218.62,468.08 218.76,468.25 218.9,468.43 219.04,468.63 219.18,468.84 219.32,469.08 219.46,469.34 219.6,469.64 219.74,469.98 219.88,470.41 220.02,470.96 220.16,471.59 220.3,472.31 220.44,473.08 220.58,473.91 220.72,474.77 220.86,475.64 221,476.51 221.14,477.35 221.28,478.16 221.42,478.91 221.56,479.58 221.7,480.15 221.84,480.61 221.98,480.94 222.12,481.11 222.26,481.11 222.4,480.94 222.54,480.6 222.68,480.11 222.82,479.48 222.96,478.73 223.1,477.86 223.24,476.89 223.38,475.84 223.52,474.72 223.66,473.54 223.8,472.31 223.94,471.04 224.08,469.76 224.22,468.47 224.36,467.19 224.5,465.92 224.64,464.69 224.78,463.51 224.92,462.35 225.06,461.16 225.2,459.94 225.34,458.7 225.48,457.43 225.62,456.15 225.76,454.85 225.9,453.54 226.04,452.22 226.18,450.88 226.32,449.53 226.46,448.17 226.6,446.79 226.74,445.41 226.88,444 227.02,442.59 227.16,441.15 227.3,439.7 227.44,438.24 227.58,436.74 227.72,435.15 227.86,433.47 228,431.7 228.14,429.87 228.28,428 228.42,426.08 228.56,424.15 228.7,422.22 228.84,420.3 228.98,418.41 229.12,416.56 229.26,414.78 229.4,413.08 229.54,411.48 229.68,409.99 229.82,408.64 229.96,407.41 230.1,406.2 230.24,404.99 230.38,403.78 230.52,402.58 230.66,401.4 230.8,400.24 230.94,399.11 231.08,398.02 231.22,396.97 231.36,395.97 231.5,395.02 231.64,394.14 231.78,393.32 231.92,392.58 232.06,391.93 232.2,391.36 232.34,390.89 232.48,390.52 232.62,390.27 232.76,390.12 232.9,390.09 233.04,390.18 233.18,390.32 233.32,390.47 233.46,390.62 233.6,390.78 233.74,390.94 233.88,391.09 234.02,391.24 234.16,391.38 234.3,391.51 234.44,391.62 234.58,391.71 234.72,391.79 234.86,391.85 235,391.89 235.14,391.92 235.28,391.95 235.42,391.96 235.56,391.97 235.7,391.97 235.84,392.02 235.98,392.16 236.12,392.37 236.26,392.66 236.4,393.02 236.54,393.45 236.68,393.93 236.82,394.47 236.96,395.05 237.1,395.67 237.24,396.33 237.38,397 237.52,397.69 237.66,398.39 237.8,399.08 237.94,399.76 238.08,400.42 238.22,401.1 238.36,401.86 238.5,402.7 238.64,403.59 238.78,404.5 238.92,405.42 239.06,406.33 239.2,407.21 239.34,408.04 239.48,408.79 239.62,409.46 239.76,410.02 239.9,410.46 240.04,410.75 240.18,410.88 240.32,410.76 240.46,410.3 240.6,409.55 240.74,408.57 240.88,407.42 241.02,406.14 241.16,404.79 241.3,403.43 241.44,402.11 241.58,400.87 241.72,399.78 241.86,398.9 242,398.26 242.14,397.94 242.28,398.06 242.42,398.92 242.56,400.39 242.7,402.33 242.84,404.55 242.98,406.91" fill="none" stroke="#9a9a9a" stroke-width="3.2" stroke-linejoin="round" stroke-linecap="round"/>
<polyline points="65.99,411.13 65.8,409.6 65.06,405.85 65.83,402.78 66.14,403.97 66.59,402.76 66.35,406.59 66.5,411.28 66.52,406.7 67.06,407.21 66.87,411.31 66.96,411.55 67.06,411.37 67.59,408.79 67.4,412.01 67.2,414.7 68.03,409.11 67.77,412.35 68.23,408.66 68.37,411.24 68.76,410.52 68.85,416.48 68.51,414.69 68.77,420.75 68.57,421.99 69.6,422.64 69.37,417.4 69.8,425.14 69.42,428.44 69.05,430.76 70.26,427.62 69.97,432.52 70.12,432.68 70.24,434.74 70.55,441.84 70.66,437.72 70.16,441.52 71.11,445.74 70.76,442.79 70.92,445.65 71.72,447.75 71.62,449.02 71.38,446.56 71.06,451.86 71.81,457.09 72.06,449.74 72.02,458.32 71.81,457.45 72.08,454.96 72.08,465.75 72.66,463.37 72.99,458.81 73.19,463.94 72.8,466.76 73.23,465.75 73.47,469.63 73.29,468.62 73.54,472.04 74.36,475.53 73.92,470.33 74.26,474.07 74.01,473.12 74.29,475.91 73.91,472.93 74.55,475.7 75.06,477.76 75.47,481.92 75.34,483.52 75.33,476.96 75.28,479.36 75.22,484.49 75.49,477.36 75.86,482.71 75.58,484.57 76.24,489.37 75.8,488.39 75.71,486.06 76.08,486.63 76.02,487.67 76.25,493.67 77.14,488.48 76.88,489.51 77.15,492.14 77.57,491.37 77.74,491.81 77.35,489.72 78.04,493.68 77.9,493.04 77.92,498.52 78.19,497.63 77.77,496.26 78.1,500.6 78.45,496.64 78.8,501.49 78.65,499 78.86,501.45 79.33,496.52 79.6,502.12 79.55,496.71 79.84,496.37 79.48,502.27 79.65,501.19 79.98,505.09 79.93,512.05 80.01,503.55 80.8,504.9 80.38,508.14 80.29,509.77 80.87,508.57 81.41,509.32 81.02,512.91 81.51,513.26 81.15,509.53 81.27,513.34 81.35,514.65 81.66,512.36 82.39,517.3 81.63,514.95 82.61,521.44 81.96,520.1 82.33,520.79 82.79,519.72 82.87,522.09 82.9,517.38 82.47,520.87 83.21,526.22 82.93,519.61 84.15,529.39 83.46,522.47 83.72,530.83 83.46,526.85 83.8,532.53 83.69,531.37 84.51,527.13 84.28,536.21 84.67,537.47 84.43,533.6 84.63,533.59 85.31,534.49 84.77,532.57 84.66,539.26 85.46,534.75 85.14,536.63 85.49,534.81 86.03,535.71 85.65,534.14 86.3,542.12 85.98,538.24 86.77,541.94 86.86,539.4 86.46,537.56 86.68,538.92 86.63,538.45 87.08,540.34 87.5,539.34 86.87,539.68 87.72,536.51 87.18,538.24 87.46,545.59 87.32,538.54 88.63,537.3 88.16,541.37 88.35,544.47 88.22,535.77 88.88,539.38 88.07,537.97 88.85,534.43 89.64,543.53 89.01,539.32 89.27,539.43 89.6,536.78 89.3,540.22 89.69,537.05 90.11,538.06 90.02,532.33 90.21,534.51 90.14,542.01 90.47,536.35 90.54,538.58 91.1,537.35 91.02,535.79 90.87,535.17 90.35,538.09 91.43,534.73 91.59,534.56 91.22,534.4 91.04,537.13 91.44,534.87 92.2,533.16 91.74,529.47 92.06,526.15 92.41,532.26 92.85,531.42 92.61,527.23 92.73,528.35 92.74,528.08 93.53,527.17 93.5,526.32 93.29,521.03 93.04,525.74 93.36,516.23 93.91,521.29 93.66,518.91 94.29,518.76 94.27,520.48 94.39,518 94.64,508.82 94.73,505.9 94.46,512.1 94.76,505.25 95.7,506.88 94.78,508.03 95.14,499.14 95.74,491.23 95.51,501.94 95.46,499.82 95.44,497.47 96.14,496.84 96.43,492.67 96.68,489.24 96.42,491.83 96.85,487.98 96.37,484.54 96.87,489.57 96.76,486.3 97.15,486.43 97.47,480.83 97.7,480.41 97.22,477.98 98.04,476.92 97.66,478.78 97.63,474.46 98.03,476.5 97.78,475.08 98.36,478.78 98.59,467.17 98.58,472.67 98.94,468.4 98.83,467.31 99.06,461.7 98.77,463.38 99.35,465.71 99.22,461.96 99.49,461.19 99.73,458.83 99.96,461.94 99.55,457.21 99.71,449.51 100.23,452.9 100.6,447.98 100.71,443.1 101.01,450.27 101.27,458.12 101.17,450.17 101.15,445.68 100.99,445.6 101.16,451.07 101.44,447.43 101.8,446.42 101.93,445.44 102,445.06 102.09,446.71 102.47,445.3 102.48,444.16 102.65,439.2 102.79,443.2 102.68,438.93 102.67,443.56 103.27,435.76 103.39,438.43 103.33,438.08 103.42,433.38 104.36,441.76 103.59,440.21 103.89,433.66 104.18,436.59 103.89,434.63 104.42,424.88 105.06,432.7 104.94,431.01 104.99,430.69 105.12,426.46 105.11,428.14 105.51,427.68 105.31,431.05 105.37,427.77 105.67,426.03 106.05,429.92 106.02,422.96 106.26,421.82 105.59,417.77 106.7,427.22 107.18,424.69 107.02,423.84 106.66,422.37 106.65,419.97 107.12,420.07 106.88,417.41 107.54,416.81 107.3,416.82 107.89,420.43 108.15,416.8 107.27,414.2 108.11,411.89 107.95,410.97 107.88,416.95 108.25,412.95 108.51,410.92 109.03,408.99 108.4,406.02 109.32,408.47 109.75,410.64 109.46,406.19 109.58,406.05 109.56,405.44 109.35,405.81 110,400.1 110.1,403.58 110.34,401.15 111.03,405.8 110.62,400.29 110.67,403.79 111.15,406.1 110.42,400.06 110.62,398.69 110.99,400.59 111.04,399.54 111.59,396.11 111.42,400.04 112.18,404.29 112.26,397.07 112.17,396.86 111.96,393.96 112.41,397.71 112.6,392.67 112.18,390.11 112.74,399.62 112.99,392.77 112.98,398.45 113.53,399.51 113.56,395.46 113.09,396.1 113.52,404.73 113.37,393.33 113.93,391.87 113.64,389.3 114.32,393.2 114.3,397.21 114.61,395.35 114.42,389.34 114.16,389.31 115.27,390.07 114.83,392.18 115.43,390.43 115.29,391.45 115.5,391.49 115.99,389.53 115.68,390.18 116.14,390.84 115.41,389.96 116.26,391.77 116.07,395.99 116.24,392.33 116.42,390.95 116.66,386 117.2,392.55 116.28,385.91 116.99,387.91 116.91,397.16 117.61,395.09 117.27,392.95 117.68,384.6 117.56,393.14 118.02,392.63 118.26,396.98 117.98,402.23 118.25,396.47 117.95,393.83 118.61,393.03 118.92,396.82 118.63,396.99 119.28,394.65 118.46,399.08 118.66,395.93 118.94,403.39 119.35,403.91 119.65,404.62 119.76,399.41 119.9,404.07 120.28,402.6 120.06,402.2 119.96,402.61 120.11,399.85 121.25,399.4 120.05,407.91 120.85,402.85 121.48,403.79 121.33,405.82 121.07,397.24 121.46,397.81 121.86,402.16 122.1,402.41 121.61,399.73 122.25,403.62 122.24,400.9 122.63,396.44 122.86,397.19 122.48,402.42 122.29,401.58 122.98,394.81 123.53,405.01 123.35,403.33 123.35,406.23 124.14,401.8 123.25,402.87 123.97,401.24 123.67,413.11 123.99,405.87 124.15,412.04 124.71,406.19 124.12,409.43 124.38,404.67 124.2,409.26 124.97,414.08 124.82,408.09 125.23,415.76 124.92,414.24 125.27,410.76 125.83,413.04 125.61,413.81 125.99,415.66 126.1,414.8 125.97,414.52 125.75,416.67 126.66,415.07 126.55,414.85 126.93,419.14 126.18,422.49 126.42,415.81 126.42,420.96 126.94,419.57 127.65,419.17 127.65,425.26 127.61,421.77 127.8,428.47 128.13,422.32 127.95,426.54 128.3,425.45 128.36,424.65 127.8,429.48 128.48,428.09 129.15,431.24 128.76,430.17 128.98,427.97 128.98,431.85 129.15,433.25 129.78,436.92 129.5,432.29 129.41,435.86 128.93,427.77 129.83,440.27 129.55,436.44 129.73,435.73 130.66,442.36 130.77,447.55 130.12,441.23 131.1,441.46 131.12,446.59 130.88,446.83 131.48,452.65 130.91,450.24 131.18,451.49 131.25,456.2 131.49,452.75 132.22,456.64 131.7,452.47 131.89,451.5 132.09,449.16 132.58,459.56 132.56,452.16 133.06,452.84 132.73,450.89 132.69,450.24 133.07,448.63 133.37,452.89 133.22,442.72 133.72,439.86 134.32,440.25 133.74,438.1 134.07,443.27 134.6,442.55 134.14,434.03 134.22,434.18 134.29,436.41 134.88,440.77 135.05,427.26 134.99,436.42 135.19,428.15 135.7,436.21 135.71,428.98 135.17,430.5 135.73,425.98 135.91,426.73 136.23,432.99 136.09,430.49 136.1,426.04 136.3,423.88 136.04,420.08 136.7,423.9 136.67,424.34 137.13,423.51 136.82,422.8 137.14,419.03 137.12,421.52 137.23,420.94 137.9,424.3 137.69,425.43 138.1,418.87 137.77,416.48 138.28,418.15 137.88,416.15 138.39,415.46 138.52,417.3 138.98,414.24 139,419.19 139.04,417.18 139.48,418.46 139.42,417.49 139.67,416.27 139.88,416.09 139.77,418.78 139.84,418.46 140.17,421.46 140.08,421.44 140.46,418.08 140.82,423.1 140.88,419.6 140.65,422.5 140.52,424.17 141.03,414.56 141.15,426.79 141.66,427.76 141.35,427.66 141.54,427.72 141.97,428.76 141.74,427.87 141.98,430.94 142.68,431.07 142.75,434 142.63,431.14 142.67,436.51 142.44,437.3 143.03,437.53 143.02,437.73 143.21,441.81 143.13,436.27 143.42,443.75 143.51,444.21 143.8,445.43 144.27,446.82 144.09,444.79 143.63,447.1 143.98,451.02 143.93,451.71 144.31,452.92 144.85,448.71 144.95,456.38 144.79,459.83 145.19,460.95 145.02,460.25 144.96,456.52 145.1,465.67 145.41,464.05 146.23,452.44 145.54,468.85 146.46,464.78 146.62,466.85 146.31,470.24 146.49,477.27 146.46,473.55 146.78,476.55 147.12,481.93 147.07,482.27 147.5,477.58 147.7,477.9 147.59,475.14 147.72,476.96 147.75,480.23 148.01,479.81 147.71,478.37 148.31,480.24 148.39,473.96 148.21,474.96 149.25,476.03 148.45,474.17 148.62,474.11 149.11,470.48 148.58,466.69 149.07,466.98 148.99,461.15 149.29,457.49 149.68,462.43 149.96,458.83 150.33,458.29 150.39,450.72 150.64,453.22 150.6,450.93 150.42,448.47 151.04,442.58 150.7,446.57 150.8,448.46 151.58,445.09 151.5,440.32 151.47,440.26 151.77,440.79 151.95,428.49 151.42,434.71 151.94,435.08 151.75,433.95 152.28,435.56 152.18,432.51 152.93,428.81 152.82,427.66 152.56,427.97 152.94,422.84 152.72,423.17 153.24,424.84 153.53,426.84 153.58,419.35 153.06,418.46 153.68,418.24 154.08,420.65 154.15,415.57 154.55,419.17 153.96,411.05 154.64,412.66 154.43,411.99 154.82,414.42 155.02,414.79 155.25,406.84 155.01,408.47 155.38,412.22 155.11,409.29 155.18,406.79 155.91,414.6 155.87,413.12 155.54,413.31 155.91,410.62 156.31,415.37 156.91,411.83 156.9,416.13 156.96,410.41 156.33,410.9 156.97,414.41 157.29,412.03 157.4,416.52 157.55,415.64 157.49,412.45 158.23,415.81 158.29,414.92 157.95,419.1 157.83,414.84 158.88,415.83 158.24,421.26 158.9,424.89 159.26,424.81 158.54,419.7 159.05,420.94 159,425.71 159.4,421.63 159.48,420.01 160.11,424.28 159.84,426.32 159.8,423.54 160.28,422.19 160,423.95 160.11,431.4 161.03,428.28 160.26,431.29 160.5,433.52 160.8,435.89 160.61,434.17 160.43,437.79 161.52,434.72 161.11,437.38 161.32,436.5 161.51,444.11 161.47,441.81 161.58,440.88 162.09,442.42 162.9,444.92 162.54,448.96 162.69,443.35 162.15,446.32 162.74,448.69 162.53,459.62 163.25,456.17 163.09,454.23 163.31,457.93 163.42,463.17 163.41,457.45 163.27,458.16 164.04,463.95 163.59,462.78 163.79,464.24 164.19,461.54 164.21,469.63 164.64,469.72 165.01,466.98 164.92,467.99 165.04,460.47 165.13,469.06 165.52,467.13 164.85,469.57 165.65,470.85 165.4,468.32 165.45,464.8 165.96,471.52 165.99,466.96 166.42,470.53 166.71,470.28 165.82,471.65 166.64,466.35 167.39,477.55 167.2,475.31 167.52,478.54 167.25,481.83 166.93,476.65 167.16,471.92 167.86,475.47 168.07,475.41 167.7,478.45 167.98,481.17 168.28,475.92 167.82,483.97 168.38,479.42 169.11,486.57 169.42,485.63 168.87,485.97 169.59,487.61 169.02,487.06 169.08,487.62 168.79,485.1 169.89,490.64 169.63,501.16 170.58,497.47 170.12,495.69 170.22,493.87 169.76,489.54 170.89,495.54 170.47,490.52 170.67,489.81 170.2,488.35 171.28,488.82 171.44,486.04 171.1,486.05 171.45,479.36 171.68,482.99 171.99,489.85 171.87,481.71 172.5,480.15 172.05,481.46 172.08,481.06 172.26,474.75 171.78,476.73 172.44,479.39 173.13,476.74 173.04,475.6 172.86,479.21 173.35,471.83 172.78,473.44 173.44,470.96 173.82,476.32 174.01,465.32 173.71,468.5 174.36,468.26 174.78,471.17 174.24,470.34 174.73,472.05 174.18,462.47 174.2,468.78 175.11,464.98 175.08,463.18 175.26,466.1 175.17,461.02 175.4,456.84 175.87,461.23 176.28,457.11 175.84,457.36 175.55,461.23 176.57,460.31 176.51,463.4 176.67,457.3 176.66,452.55 177.44,454.15 176.91,452.93 177.18,451.3 176.61,455.54 177.13,451.57 177.24,446.85 177.58,455.83 177.83,451.01 177.64,451.69 178.52,450.47 177.82,451.06 178.15,448.54 178.5,451.38 178.19,448.19 178.88,447.31 179.03,446.56 178.9,440.13 179.7,443.14 179.29,441.97 179.49,442.45 179.26,436.82 179.18,444.84 179.64,439.28 179.87,434.34 179.97,431.85 180.48,435.14 179.67,434.71 180.18,431.83 180.12,433.28 181.21,430.11 180.78,432.74 180.93,427.99 180.89,429.15 181.63,431.33 181.38,441.44 181.71,423.73 181.17,424.58 182.28,422.7 182.18,426.81 182.37,420.24 182.72,421.46 182.43,422.05 182.57,418.42 182.98,417.71 183.03,418.37 182.97,412.72 183.2,413.9 183.17,416.23 183.68,417.15 183.89,415.4 183.75,409.91 184.45,413.13 183.56,416.22 184.1,414.83 184.82,412.29 184.32,409.26 184.1,413.25 185.14,409.1 185.03,406.83 184.65,407.43 185.38,413.68 184.98,409.49 185.02,411.8 185.52,406.38 185.56,410.14 185.52,405.04 185.88,405.89 185.82,413.37 186.28,407.77 186.4,403.54 186.77,404.38 186.55,405.23 186.43,407.53 186.57,402.1 187.03,398.04 187.71,402.16 187.64,402.81 187.33,402.9 187.95,406.37 187.46,403.26 188.25,404.7 187.97,399.03 188.46,405.15 188.55,409.17 188.42,405.64 188.74,404.62 188.46,404.94 188.9,410.53 189.39,403.13 190.44,406.37 189.56,408.92 189.51,410.62 189.32,407.95 190.08,411.06 189.41,410.17 189.8,412.23 190.29,412.31 189.96,410.08 190.93,414.21 190.93,417.61 190.58,412.82 190.72,415.8 190.63,419.38 190.74,415.08 191.44,419.78 191.63,417.03 191.69,424.6 191.81,429.12 191.7,429.22 192.11,423.44 191.7,427.24 192.29,426.25 192.87,427 192.96,432.08 192.57,424.15 192.75,431.86 193.4,428.93 193.66,433.81 192.82,430.44 193.28,426.44 193.62,430.97 194.05,432.3 193.57,430.02 194.16,431.08 194.02,427.65 194.96,422.31 194.52,430.83 194.49,429.56 194.57,427.18 195.12,426.16 195.15,428.23 194.76,422.87 195.29,421.21 194.96,421.83 195.28,425.01 195.26,416.32 195.39,423.1 195.72,416.65 195.77,414.32 196.37,420.49 196.59,415.53 196.41,411.09 196.29,413.13 197.01,418.5 196.3,416.3 196.46,410.69 197.41,413.41 197.52,412.6 197.76,407.76 197.54,410.01 197.37,408.11 197.73,405.88 198.2,405.31 197.94,406.3 198.1,405.53 198.03,403.11 198.24,402.92 198.98,406.96 199,403.7 198.66,405.17 198.82,405.6 199.12,403.25 199.59,407.81 199.21,398.03 199.66,402.46 199.2,398.61 199.61,404.66 200.25,403.74 200.54,392.32 200.06,394.79 200.31,399.18 200.93,399.02 200.71,398.3 200.8,395.31 201.26,396.32 201.31,396.35 201.72,393.59 201.77,396.36 201.49,385.97 201.77,394.15 201.93,388.67 201.68,396.52 201.93,390.26 202.66,387.92 202.03,391.41 202.95,387.3 202.87,387.09 202.89,384.98 203.23,389.51 203.35,391.05 203.71,392.66 203.37,388.96 203.56,393.1 203.69,390.32 204.47,390.38 204.33,392.85 203.91,394.82 204.23,391.18 204.25,392.08 204.61,392.97 204.81,394.36 205.58,392.08 204.48,398.56 205.48,394.97 205.44,398.26 205.24,395.1 205.54,399.35 205.58,400.14 205.88,398.48 206.31,406.68 205.69,402.7 206.68,407.97 206.32,406.66 207.02,402.99 206.83,405.09 207.22,408.85 207.16,409.21 207.46,410.39 207.29,410.76 207.16,407.57 207.75,413.67 207.9,409.03 208.46,418.1 207.37,416.07 208.05,417.3 208.57,419.93 208.01,422.47 208.46,418.38 209.31,418.44 209.24,421.48 208.69,419.54 209.52,423.73 209.59,432.36 209.6,422.83 209.62,431.42 209.72,426.27 209.53,432.2 209.78,431.24 210.29,432.91 210.25,435.67 210.91,440.1 210.39,436.27 209.91,436.91 210.67,434.45 210.99,439.95 211.17,438.27 211.21,442.31 211.08,440.48 211.92,446.62 211.41,436.23 211.97,442.07 211.81,448.51 211.67,443.49 212.6,442.95 211.56,445.33 212.2,442.79 212.72,448.08 212.63,455.84 213.1,452.74 212.98,446.77 213.02,448.25 213.94,450.43 213.37,457.82 213.53,450.68 213.39,451.79 213.63,457.22 214.19,457.85 214.3,454.79 214.27,450.51 214.2,452.51 214.76,455.65 214.18,451.62 214.73,461.1 214.9,457.48 214.86,461.31 215.3,465.94 215.19,464.32 215.29,457.79 216.22,464.29 216.04,465.58 216.32,460.28 216.11,460.06 216.53,462.98 216.61,458.89 216.88,468.49 217.37,457.23 216.73,458.83 217.01,464.35 217.06,464.82 216.16,466.32 216.94,466.94 217.5,465.77 217.83,470.08 217.6,460.5 218.26,467.14 218.44,465.21 218.07,467.94 218.77,468.39 219,465.17 218.76,466.15 218.46,470.63 219.34,469.48 218.99,466.59 219.07,474.96 219.35,476 219.3,464.95 219.92,471.27 219.97,477.5 220.25,472.76 220.19,471.62 219.92,470.97 220.25,470.68 220.7,472.45 220.46,472.26 221.6,477 220.79,474.44 220.82,475.18 221.48,473.75 221.5,478.01 221.41,476.22 221.49,479.03 221.83,483.28 222.09,481.71 222.21,482.45 222.03,482.18 222.39,481.29 222.65,480.56 222.77,479.68 221.75,482.39 222.55,476.23 222.73,482.75 223.03,477.96 223.29,474.65 223.66,474.38 223.71,472.69 223.62,474.02 223.81,470.15 224.47,474.47 223.9,467.42 224.31,461.65 224.83,464.99 224.6,459.89 224.03,464.57 224.89,466.68 224.8,464.29 225.03,457.14 225.52,457.65 225.48,464.03 225.4,458.39 225.89,456.16 225.89,458.02 225.93,460.9 226.13,456.11 226.26,451.3 226.22,450.59 226.32,450.02 226.61,444.96 226.45,442.23 226.5,444.16 227.41,439.74 227.09,440.97 227.29,439.99 227.4,445.26 227.59,434.19 227.73,434.79 227.88,432.97 227.76,433.01 228.42,433.01 228.07,426.53 228.73,423.62 227.98,419.23 228.38,419.44 229.14,421.91 228.94,418.54 228.92,413.52 229.37,413.66 229.09,413.18 229.56,414.2 229.02,408.21 229.68,407.89 229.77,401.95 230.26,399.98 230.5,409.84 230.12,397.21 231,401.57 230.48,402.06 230.18,399.12 230.23,396.69 231.54,397.84 231.19,396.96 231.17,395.72 231.28,389.39 231.31,393.7 232.19,390.76 231.89,390.94 232.6,392.61 232.14,393.28 231.63,393.58 232.73,389.04 232.51,393.04 232.69,393.64 233.37,393.5 232.96,394.35 233.53,389.88 233.32,389.94 233.23,395.08 233.75,386.68 233.56,391.57 234.25,389.5 234.31,390.14 234.18,386.16 234.48,388.84 234.61,391.56 234.5,394.38 234.99,394.76 234.79,391.61 235.18,391.33 234.85,389.43 235.31,394.12 235.54,391.22 235.32,393.78 235.58,397.23 235.68,391.93 236.2,387.66 235.9,389.79 236.39,388.29 236.86,389.43 236.65,397.36 236.2,394.61 236.86,389.91 237.27,397.01 237.02,399.45 237.57,395.25 237.57,394.97 237.65,396.68 237.58,399.24 237.65,401 237.87,406.14 238.1,404.06 238.38,404.65 238.49,405.95 238.41,404.69 238.66,399 238.9,404.11 238.44,406.37 238.83,405.18 238.96,409.94 239.28,406.96 239.4,406.02 239.55,413.79 239.5,412.02 240.11,411.11 240.13,413.53 239.69,414.06 240.33,412.6 240.13,402.92 241.12,407.52 240.61,407.2 240.77,404.47 241.05,406.74 241.1,408.37 241.29,401.98 241.91,398.7 241.65,406.96 241.98,398.43 242.2,395.2 241.71,398.98 242.65,399.22 242.49,395.95 242.71,401.29 242.31,398.93 242.95,399.56 242.97,405.09 242.82,409.22" fill="none" stroke="#222" stroke-width="0.5" stroke-linejoin="round" stroke-linecap="round"/>
<polyline points="65.6,411.13 65.74,408.7 65.88,406.67 66.02,405.45 66.16,405.33 66.3,405.74 66.44,406.41 66.58,407.26 66.72,408.18 66.86,409.07 67,409.84 67.14,410.47 67.28,411.05 67.42,411.59 67.56,412.1 67.7,412.61 67.84,413.14 67.98,413.72 68.12,414.36 68.26,415.11 68.4,416.05 68.54,417.18 68.68,418.49 68.82,419.94 68.96,421.52 69.1,423.2 69.24,424.95 69.38,426.76 69.52,428.59 69.66,430.42 69.8,432.22 69.94,433.96 70.08,435.62 70.22,437.16 70.36,438.66 70.5,440.14 70.64,441.62 70.78,443.09 70.92,444.54 71.06,445.98 71.2,447.41 71.34,448.83 71.48,450.24 71.62,451.63 71.76,453.01 71.9,454.38 72.04,455.74 72.18,457.09 72.32,458.42 72.46,459.75 72.6,461.08 72.74,462.41 72.88,463.72 73.02,465.03 73.16,466.31 73.3,467.58 73.44,468.82 73.58,470.03 73.72,471.21 73.86,472.36 74,473.46 74.14,474.51 74.28,475.53 74.42,476.49 74.56,477.43 74.7,478.34 74.84,479.23 74.98,480.09 75.12,480.93 75.26,481.75 75.4,482.55 75.54,483.33 75.68,484.1 75.82,484.86 75.96,485.6 76.1,486.33 76.24,487.04 76.38,487.74 76.52,488.42 76.66,489.1 76.8,489.76 76.94,490.42 77.08,491.08 77.22,491.74 77.36,492.4 77.5,493.06 77.64,493.72 77.78,494.37 77.92,495.02 78.06,495.68 78.2,496.33 78.34,496.99 78.48,497.66 78.62,498.34 78.76,499.01 78.9,499.7 79.04,500.39 79.18,501.08 79.32,501.78 79.46,502.48 79.6,503.18 79.74,503.89 79.88,504.6 80.02,505.32 80.16,506.04 80.3,506.78 80.44,507.53 80.58,508.3 80.72,509.1 80.86,509.94 81,510.81 81.14,511.71 81.28,512.63 81.42,513.58 81.56,514.54 81.7,515.53 81.84,516.52 81.98,517.52 82.12,518.53 82.26,519.53 82.4,520.52 82.54,521.49 82.68,522.45 82.82,523.37 82.96,524.27 83.1,525.13 83.24,525.99 83.38,526.86 83.52,527.71 83.66,528.56 83.8,529.39 83.94,530.2 84.08,530.98 84.22,531.74 84.36,532.46 84.5,533.15 84.64,533.8 84.78,534.41 84.92,534.97 85.06,535.49 85.2,535.96 85.34,536.38 85.48,536.79 85.62,537.19 85.76,537.58 85.9,537.97 86.04,538.35 86.18,538.7 86.32,539.04 86.46,539.36 86.6,539.65 86.74,539.9 86.88,540.13 87.02,540.32 87.16,540.47 87.3,540.58 87.44,540.64 87.58,540.66 87.72,540.63 87.86,540.56 88,540.46 88.14,540.36 88.28,540.25 88.42,540.13 88.56,540 88.7,539.86 88.84,539.72 88.98,539.56 89.12,539.39 89.26,539.22 89.4,539.04 89.54,538.85 89.68,538.67 89.82,538.49 89.96,538.32 90.1,538.15 90.24,538 90.38,537.87 90.52,537.7 90.66,537.45 90.8,537.11 90.94,536.69 91.08,536.2 91.22,535.64 91.36,535.02 91.5,534.34 91.64,533.61 91.78,532.83 91.92,532.01 92.06,531.16 92.2,530.29 92.34,529.41 92.48,528.52 92.62,527.65 92.76,526.73 92.9,525.73 93.04,524.67 93.18,523.56 93.32,522.4 93.46,521.2 93.6,519.96 93.74,518.71 93.88,517.43 94.02,516.14 94.16,514.84 94.3,513.55 94.44,512.26 94.58,510.97 94.72,509.65 94.86,508.3 95,506.92 95.14,505.51 95.28,504.08 95.42,502.63 95.56,501.16 95.7,499.69 95.84,498.21 95.98,496.73 96.12,495.25 96.26,493.78 96.4,492.33 96.54,490.89 96.68,489.47 96.82,488.06 96.96,486.63 97.1,485.21 97.24,483.8 97.38,482.39 97.52,480.98 97.66,479.58 97.8,478.19 97.94,476.81 98.08,475.43 98.22,474.06 98.36,472.7 98.5,471.35 98.64,470.01 98.78,468.67 98.92,467.35 99.06,466.05 99.2,464.76 99.34,463.48 99.48,462.21 99.62,460.95 99.76,459.7 99.9,458.47 100.04,457.28 100.18,456.11 100.32,454.98 100.46,453.89 100.6,452.85 100.74,451.86 100.88,450.92 101.02,450.03 101.16,449.2 101.3,448.42 101.44,447.68 101.58,446.96 101.72,446.27 101.86,445.6 102,444.95 102.14,444.29 102.28,443.65 102.42,442.99 102.56,442.33 102.7,441.66 102.84,440.98 102.98,440.28 103.12,439.57 103.26,438.84 103.4,438.11 103.54,437.36 103.68,436.6 103.82,435.83 103.96,435.05 104.1,434.27 104.24,433.49 104.38,432.72 104.52,431.95 104.66,431.19 104.8,430.44 104.94,429.69 105.08,428.95 105.22,428.22 105.36,427.49 105.5,426.77 105.64,426.05 105.78,425.34 105.92,424.63 106.06,423.92 106.2,423.22 106.34,422.51 106.48,421.8 106.62,421.09 106.76,420.37 106.9,419.64 107.04,418.91 107.18,418.17 107.32,417.42 107.46,416.66 107.6,415.9 107.74,415.14 107.88,414.38 108.02,413.62 108.16,412.88 108.3,412.15 108.44,411.43 108.58,410.72 108.72,410.02 108.86,409.34 109,408.67 109.14,408.02 109.28,407.37 109.42,406.73 109.56,406.1 109.7,405.48 109.84,404.88 109.98,404.29 110.12,403.71 110.26,403.15 110.4,402.6 110.54,402.06 110.68,401.52 110.82,401 110.96,400.5 111.1,400.01 111.24,399.54 111.38,399.09 111.52,398.66 111.66,398.24 111.8,397.85 111.94,397.46 112.08,397.1 112.22,396.75 112.36,396.41 112.5,396.09 112.64,395.78 112.78,395.48 112.92,395.2 113.06,394.93 113.2,394.68 113.34,394.44 113.48,394.19 113.62,393.92 113.76,393.65 113.9,393.36 114.04,393.07 114.18,392.77 114.32,392.47 114.46,392.17 114.6,391.87 114.74,391.58 114.88,391.3 115.02,391.04 115.16,390.81 115.3,390.6 115.44,390.43 115.58,390.3 115.72,390.22 115.86,390.21 116,390.26 116.14,390.38 116.28,390.55 116.42,390.78 116.56,391.06 116.7,391.39 116.84,391.75 116.98,392.14 117.12,392.55 117.26,392.97 117.4,393.4 117.54,393.83 117.68,394.26 117.82,394.67 117.96,395.07 118.1,395.45 118.24,395.82 118.38,396.17 118.52,396.54 118.66,396.99 118.8,397.52 118.94,398.1 119.08,398.73 119.22,399.38 119.36,400.05 119.5,400.72 119.64,401.37 119.78,401.97 119.92,402.52 120.06,402.99 120.2,403.37 120.34,403.63 120.48,403.75 120.62,403.73 120.76,403.62 120.9,403.42 121.04,403.15 121.18,402.81 121.32,402.44 121.46,402.04 121.6,401.63 121.74,401.24 121.88,400.86 122.02,400.53 122.16,400.27 122.3,400.08 122.44,399.98 122.58,400.01 122.72,400.19 122.86,400.51 123,400.97 123.14,401.54 123.28,402.2 123.42,402.95 123.56,403.76 123.7,404.62 123.84,405.5 123.98,406.39 124.12,407.28 124.26,408.13 124.4,408.94 124.54,409.69 124.68,410.41 124.82,411.13 124.96,411.84 125.1,412.54 125.24,413.22 125.38,413.89 125.52,414.55 125.66,415.19 125.8,415.81 125.94,416.41 126.08,417 126.22,417.58 126.36,418.15 126.5,418.72 126.64,419.28 126.78,419.84 126.92,420.39 127.06,420.95 127.2,421.52 127.34,422.1 127.48,422.7 127.62,423.33 127.76,423.98 127.9,424.66 128.04,425.38 128.18,426.13 128.32,426.91 128.46,427.72 128.6,428.56 128.74,429.43 128.88,430.32 129.02,431.23 129.16,432.15 129.3,433.09 129.44,434.04 129.58,435.01 129.72,435.98 129.86,437.07 130,438.31 130.14,439.69 130.28,441.15 130.42,442.68 130.56,444.24 130.7,445.8 130.84,447.34 130.98,448.82 131.12,450.22 131.26,451.51 131.4,452.66 131.54,453.65 131.68,454.45 131.82,455.02 131.96,455.34 132.1,455.38 132.24,455.14 132.38,454.66 132.52,453.98 132.66,453.12 132.8,452.11 132.94,450.98 133.08,449.76 133.22,448.48 133.36,447.17 133.5,445.84 133.64,444.54 133.78,443.28 133.92,442.11 134.06,441.03 134.2,440.09 134.34,439.23 134.48,438.35 134.62,437.48 134.76,436.6 134.9,435.72 135.04,434.84 135.18,433.96 135.32,433.09 135.46,432.22 135.6,431.35 135.74,430.5 135.88,429.66 136.02,428.83 136.16,428.03 136.3,427.24 136.44,426.49 136.58,425.77 136.72,425.08 136.86,424.43 137,423.76 137.14,423.08 137.28,422.4 137.42,421.72 137.56,421.06 137.7,420.42 137.84,419.83 137.98,419.28 138.12,418.78 138.26,418.34 138.4,417.97 138.54,417.68 138.68,417.48 138.82,417.37 138.96,417.37 139.1,417.49 139.24,417.71 139.38,418.04 139.52,418.45 139.66,418.94 139.8,419.49 139.94,420.1 140.08,420.76 140.22,421.45 140.36,422.17 140.5,422.9 140.64,423.63 140.78,424.35 140.92,425.05 141.06,425.77 141.2,426.52 141.34,427.31 141.48,428.13 141.62,428.99 141.76,429.88 141.9,430.8 142.04,431.75 142.18,432.72 142.32,433.73 142.46,434.75 142.6,435.8 142.74,436.87 142.88,437.95 143.02,439.05 143.16,440.15 143.3,441.26 143.44,442.37 143.58,443.48 143.72,444.58 143.86,445.67 144,446.75 144.14,447.88 144.28,449.11 144.42,450.42 144.56,451.8 144.7,453.26 144.84,454.77 144.98,456.32 145.12,457.92 145.26,459.55 145.4,461.19 145.54,462.85 145.68,464.49 145.82,466.12 145.96,467.71 146.1,469.26 146.24,470.74 146.38,472.14 146.52,473.45 146.66,474.66 146.8,475.74 146.94,476.69 147.08,477.49 147.22,478.14 147.36,478.62 147.5,478.92 147.64,479.04 147.78,478.96 147.92,478.62 148.06,478.04 148.2,477.25 148.34,476.27 148.48,475.13 148.62,473.83 148.76,472.42 148.9,470.89 149.04,469.29 149.18,467.61 149.32,465.9 149.46,464.16 149.6,462.41 149.74,460.68 149.88,458.99 150.02,457.36 150.16,455.81 150.3,454.31 150.44,452.73 150.58,451.07 150.72,449.34 150.86,447.57 151,445.77 151.14,443.95 151.28,442.12 151.42,440.31 151.56,438.52 151.7,436.78 151.84,435.08 151.98,433.46 152.12,431.91 152.26,430.45 152.4,429.11 152.54,427.88 152.68,426.75 152.82,425.61 152.96,424.46 153.1,423.29 153.24,422.12 153.38,420.97 153.52,419.83 153.66,418.72 153.8,417.65 153.94,416.62 154.08,415.66 154.22,414.76 154.36,413.95 154.5,413.22 154.64,412.58 154.78,412.06 154.92,411.65 155.06,411.37 155.2,411.22 155.34,411.21 155.48,411.26 155.62,411.36 155.76,411.48 155.9,411.64 156.04,411.83 156.18,412.05 156.32,412.29 156.46,412.55 156.6,412.84 156.74,413.14 156.88,413.46 157.02,413.8 157.16,414.14 157.3,414.49 157.44,414.86 157.58,415.22 157.72,415.6 157.86,415.97 158,416.36 158.14,416.74 158.28,417.14 158.42,417.62 158.56,418.18 158.7,418.81 158.84,419.51 158.98,420.28 159.12,421.11 159.26,422 159.4,422.94 159.54,423.93 159.68,424.96 159.82,426.03 159.96,427.13 160.1,428.26 160.24,429.4 160.38,430.56 160.52,431.72 160.66,432.88 160.8,434.03 160.94,435.17 161.08,436.29 161.22,437.39 161.36,438.47 161.5,439.57 161.64,440.71 161.78,441.89 161.92,443.09 162.06,444.33 162.2,445.58 162.34,446.85 162.48,448.14 162.62,449.43 162.76,450.73 162.9,452.02 163.04,453.3 163.18,454.56 163.32,455.79 163.46,456.99 163.6,458.15 163.74,459.26 163.88,460.31 164.02,461.3 164.16,462.22 164.3,463.07 164.44,463.85 164.58,464.59 164.72,465.28 164.86,465.94 165,466.56 165.14,467.15 165.28,467.71 165.42,468.27 165.56,468.81 165.7,469.34 165.84,469.87 165.98,470.41 166.12,470.96 166.26,471.52 166.4,472.09 166.54,472.68 166.68,473.28 166.82,473.9 166.96,474.55 167.1,475.21 167.24,475.89 167.38,476.59 167.52,477.33 167.66,478.15 167.8,479.03 167.94,479.96 168.08,480.93 168.22,481.93 168.36,482.94 168.5,483.96 168.64,484.97 168.78,485.96 168.92,486.91 169.06,487.83 169.2,488.68 169.34,489.46 169.48,490.14 169.62,490.73 169.76,491.2 169.9,491.53 170.04,491.72 170.18,491.75 170.32,491.57 170.46,491.21 170.6,490.69 170.74,490.02 170.88,489.22 171.02,488.32 171.16,487.34 171.3,486.3 171.44,485.22 171.58,484.11 171.72,483.01 171.86,481.92 172,480.87 172.14,479.87 172.28,478.94 172.42,478.1 172.56,477.35 172.7,476.64 172.84,475.93 172.98,475.24 173.12,474.55 173.26,473.87 173.4,473.19 173.54,472.52 173.68,471.84 173.82,471.18 173.96,470.51 174.1,469.85 174.24,469.18 174.38,468.52 174.52,467.86 174.66,467.2 174.8,466.53 174.94,465.86 175.08,465.17 175.22,464.48 175.36,463.78 175.5,463.07 175.64,462.34 175.78,461.6 175.92,460.86 176.06,460.12 176.2,459.38 176.34,458.64 176.48,457.89 176.62,457.15 176.76,456.42 176.9,455.68 177.04,454.96 177.18,454.23 177.32,453.51 177.46,452.79 177.6,452.07 177.74,451.35 177.88,450.62 178.02,449.9 178.16,449.16 178.3,448.42 178.44,447.67 178.58,446.91 178.72,446.13 178.86,445.33 179,444.5 179.14,443.64 179.28,442.75 179.42,441.83 179.56,440.89 179.7,439.94 179.84,438.96 179.98,437.98 180.12,436.98 180.26,435.98 180.4,434.98 180.54,433.99 180.68,433 180.82,432.04 180.96,431.09 181.1,430.16 181.24,429.27 181.38,428.4 181.52,427.56 181.66,426.75 181.8,425.98 181.94,425.22 182.08,424.45 182.22,423.69 182.36,422.91 182.5,422.14 182.64,421.36 182.78,420.58 182.92,419.8 183.06,419.02 183.2,418.24 183.34,417.47 183.48,416.71 183.62,415.96 183.76,415.23 183.9,414.52 184.04,413.83 184.18,413.16 184.32,412.53 184.46,411.93 184.6,411.36 184.74,410.83 184.88,410.34 185.02,409.84 185.16,409.33 185.3,408.83 185.44,408.32 185.58,407.82 185.72,407.33 185.86,406.84 186,406.37 186.14,405.91 186.28,405.46 186.42,405.04 186.56,404.63 186.7,404.25 186.84,403.89 186.98,403.56 187.12,403.26 187.26,403 187.4,402.76 187.54,402.57 187.68,402.42 187.82,402.31 187.96,402.26 188.1,402.34 188.24,402.55 188.38,402.88 188.52,403.32 188.66,403.86 188.8,404.48 188.94,405.17 189.08,405.91 189.22,406.71 189.36,407.54 189.5,408.39 189.64,409.26 189.78,410.13 189.92,411.01 190.06,411.87 190.2,412.7 190.34,413.51 190.48,414.27 190.62,414.98 190.76,415.72 190.9,416.52 191.04,417.38 191.18,418.29 191.32,419.24 191.46,420.21 191.6,421.19 191.74,422.18 191.88,423.15 192.02,424.1 192.16,425.02 192.3,425.88 192.44,426.7 192.58,427.44 192.72,428.11 192.86,428.69 193,429.19 193.14,429.59 193.28,429.88 193.42,430.07 193.56,430.14 193.7,430.09 193.84,429.91 193.98,429.62 194.12,429.21 194.26,428.71 194.4,428.13 194.54,427.47 194.68,426.74 194.82,425.95 194.96,425.12 195.1,424.24 195.24,423.33 195.38,422.4 195.52,421.45 195.66,420.48 195.8,419.52 195.94,418.57 196.08,417.62 196.22,416.71 196.36,415.83 196.5,414.99 196.64,414.2 196.78,413.47 196.92,412.73 197.06,411.97 197.2,411.22 197.34,410.46 197.48,409.7 197.62,408.95 197.76,408.21 197.9,407.49 198.04,406.78 198.18,406.1 198.32,405.44 198.46,404.81 198.6,404.2 198.74,403.62 198.88,403.06 199.02,402.52 199.16,401.99 199.3,401.49 199.44,400.99 199.58,400.51 199.72,400.03 199.86,399.56 200,399.1 200.14,398.64 200.28,398.18 200.42,397.7 200.56,397.18 200.7,396.65 200.84,396.09 200.98,395.53 201.12,394.96 201.26,394.39 201.4,393.83 201.54,393.28 201.68,392.75 201.82,392.25 201.96,391.78 202.1,391.34 202.24,390.94 202.38,390.59 202.52,390.28 202.66,390.03 202.8,389.83 202.94,389.68 203.08,389.59 203.22,389.56 203.36,389.59 203.5,389.72 203.64,389.95 203.78,390.27 203.92,390.66 204.06,391.12 204.2,391.64 204.34,392.21 204.48,392.81 204.62,393.45 204.76,394.11 204.9,394.79 205.04,395.48 205.18,396.17 205.32,396.88 205.46,397.58 205.6,398.27 205.74,398.97 205.88,399.74 206.02,400.62 206.16,401.59 206.3,402.64 206.44,403.78 206.58,404.98 206.72,406.24 206.86,407.54 207,408.88 207.14,410.25 207.28,411.62 207.42,412.99 207.56,414.35 207.7,415.69 207.84,416.99 207.98,418.25 208.12,419.45 208.26,420.59 208.4,421.66 208.54,422.68 208.68,423.68 208.82,424.68 208.96,425.66 209.1,426.63 209.24,427.59 209.38,428.53 209.52,429.47 209.66,430.39 209.8,431.3 209.94,432.2 210.08,433.09 210.22,433.97 210.36,434.83 210.5,435.69 210.64,436.54 210.78,437.37 210.92,438.2 211.06,439.01 211.2,439.82 211.34,440.61 211.48,441.4 211.62,442.18 211.76,442.96 211.9,443.75 212.04,444.54 212.18,445.33 212.32,446.13 212.46,446.93 212.6,447.72 212.74,448.52 212.88,449.31 213.02,450.1 213.16,450.87 213.3,451.64 213.44,452.4 213.58,453.14 213.72,453.86 213.86,454.57 214,455.25 214.14,455.91 214.28,456.55 214.42,457.16 214.56,457.75 214.7,458.31 214.84,458.85 214.98,459.37 215.12,459.86 215.26,460.34 215.4,460.8 215.54,461.25 215.68,461.68 215.82,462.1 215.96,462.52 216.1,462.92 216.24,463.31 216.38,463.7 216.52,464.08 216.66,464.45 216.8,464.81 216.94,465.16 217.08,465.5 217.22,465.82 217.36,466.12 217.5,466.41 217.64,466.67 217.78,466.92 217.92,467.14 218.06,467.35 218.2,467.55 218.34,467.73 218.48,467.91 218.62,468.08 218.76,468.25 218.9,468.43 219.04,468.63 219.18,468.84 219.32,469.08 219.46,469.34 219.6,469.64 219.74,469.98 219.88,470.41 220.02,470.96 220.16,471.59 220.3,472.31 220.44,473.08 220.58,473.91 220.72,474.77 220.86,475.64 221,476.51 221.14,477.35 221.28,478.16 221.42,478.91 221.56,479.58 221.7,480.15 221.84,480.61 221.98,480.94 222.12,481.11 222.26,481.11 222.4,480.94 222.54,480.6 222.68,480.11 222.82,479.48 222.96,478.73 223.1,477.86 223.24,476.89 223.38,475.84 223.52,474.72 223.66,473.54 223.8,472.31 223.94,471.04 224.08,469.76 224.22,468.47 224.36,467.19 224.5,465.92 224.64,464.69 224.78,463.51 224.92,462.35 225.06,461.16 225.2,459.94 225.34,458.7 225.48,457.43 225.62,456.15 225.76,454.85 225.9,453.54 226.04,452.22 226.18,450.88 226.32,449.53 226.46,448.17 226.6,446.79 226.74,445.41 226.88,444 227.02,442.59 227.16,441.15 227.3,439.7 227.44,438.24 227.58,436.74 227.72,435.15 227.86,433.47 228,431.7 228.14,429.87 228.28,428 228.42,426.08 228.56,424.15 228.7,422.22 228.84,420.3 228.98,418.41 229.12,416.56 229.26,414.78 229.4,413.08 229.54,411.48 229.68,409.99 229.82,408.64 229.96,407.41 230.1,406.2 230.24,404.99 230.38,403.78 230.52,402.58 230.66,401.4 230.8,400.24 230.94,399.11 231.08,398.02 231.22,396.97 231.36,395.97 231.5,395.02 231.64,394.14 231.78,393.32 231.92,392.58 232.06,391.93 232.2,391.36 232.34,390.89 232.48,390.52 232.62,390.27 232.76,390.12 232.9,390.09 233.04,390.18 233.18,390.32 233.32,390.47 233.46,390.62 233.6,390.78 233.74,390.94 233.88,391.09 234.02,391.24 234.16,391.38 234.3,391.51 234.44,391.62 234.58,391.71 234.72,391.79 234.86,391.85 235,391.89 235.14,391.92 235.28,391.95 235.42,391.96 235.56,391.97 235.7,391.97 235.84,392.02 235.98,392.16 236.12,392.37 236.26,392.66 236.4,393.02 236.54,393.45 236.68,393.93 236.82,394.47 236.96,395.05 237.1,395.67 237.24,396.33 237.38,397 237.52,397.69 237.66,398.39 237.8,399.08 237.94,399.76 238.08,400.42 238.22,401.1 238.36,401.86 238.5,402.7 238.64,403.59 238.78,404.5 238.92,405.42 239.06,406.33 239.2,407.21 239.34,408.04 239.48,408.79 239.62,409.46 239.76,410.02 239.9,410.46 240.04,410.75 240.18,410.88 240.32,410.76 240.46,410.3 240.6,409.55 240.74,408.57 240.88,407.42 241.02,406.14 241.16,404.79 241.3,403.43 241.44,402.11 241.58,400.87 241.72,399.78 241.86,398.9 242,398.26 242.14,397.94 242.28,398.06 242.42,398.92 242.56,400.39 242.7,402.33 242.84,404.55 242.98,406.91" fill="none" stroke="#151515" stroke-width="1.0" stroke-linejoin="round" stroke-linecap="round"/>
<polyline points="64.8,479 67.84,476.44 70.87,473.99 73.91,471.67 76.95,469.5 79.99,467.51 83.02,465.68 86.06,463.97 89.1,462.36 92.14,460.82 95.17,459.33 98.21,457.87 101.25,456.4 104.28,454.93 107.32,453.48 110.36,452.07 113.4,450.71 116.43,449.41 119.47,448.2 122.51,447.08 125.55,446.02 128.58,445.01 131.62,444.04 134.66,443.1 137.69,442.19 140.73,441.28 143.77,440.38 146.81,439.48 149.84,438.6 152.88,437.76 155.92,436.97 158.96,436.24 161.99,435.57 165.03,434.94 168.07,434.35 171.11,433.8 174.14,433.26 177.18,432.76 180.22,432.27 183.25,431.78 186.29,431.29 189.33,430.81 192.37,430.37 195.4,429.97 198.44,429.64 201.48,429.38 204.52,429.12 207.55,428.88 210.59,428.65 213.63,428.45 216.66,428.28 219.7,428.17 222.74,428.11 225.78,428.1 228.81,428.12 231.85,428.15 234.89,428.21 237.93,428.3 240.96,428.43 244,428.6" fill="none" stroke="#ff3030" stroke-width="1.1" stroke-linejoin="round" stroke-linecap="round"/>
<text x="172.8" y="520.3" font-size="13.5" font-weight="bold" fill="#000">FM = 34.1</text>
<rect x="324" y="360.8" width="32.4" height="193.2" fill="#ffff88" stroke="none" stroke-width="0"/>
<rect x="356.4" y="360.8" width="42.5" height="193.2" fill="#dcfcb9" stroke="none" stroke-width="0"/>
<rect x="398.9" y="360.8" width="141.5" height="193.2" fill="#c8edfe" stroke="none" stroke-width="0"/>
<polygon points="411,360.8 540.4,360.8 540.4,400" fill="#c7f1fe"/>
<line x1="323.3" y1="360.8" x2="323.3" y2="554.6" stroke="#5a5a5a" stroke-width="1.1"/>
<line x1="322.8" y1="554" x2="540.4" y2="554" stroke="#5a5a5a" stroke-width="1.1"/>
<line x1="320.8" y1="542.8" x2="323.3" y2="542.8" stroke="#5a5a5a" stroke-width="1.0"/>
<text x="318.8" y="545.6" font-size="8.8" text-anchor="end" fill="#111">0</text>
<line x1="320.8" y1="520.15" x2="323.3" y2="520.15" stroke="#5a5a5a" stroke-width="1.0"/>
<text x="318.8" y="522.95" font-size="8.8" text-anchor="end" fill="#111">2</text>
<line x1="320.8" y1="497.5" x2="323.3" y2="497.5" stroke="#5a5a5a" stroke-width="1.0"/>
<text x="318.8" y="500.3" font-size="8.8" text-anchor="end" fill="#111">4</text>
<line x1="320.8" y1="474.85" x2="323.3" y2="474.85" stroke="#5a5a5a" stroke-width="1.0"/>
<text x="318.8" y="477.65" font-size="8.8" text-anchor="end" fill="#111">6</text>
<line x1="320.8" y1="452.2" x2="323.3" y2="452.2" stroke="#5a5a5a" stroke-width="1.0"/>
<text x="318.8" y="455" font-size="8.8" text-anchor="end" fill="#111">8</text>
<line x1="320.8" y1="429.55" x2="323.3" y2="429.55" stroke="#5a5a5a" stroke-width="1.0"/>
<text x="318.8" y="432.35" font-size="8.8" text-anchor="end" fill="#111">10</text>
<line x1="320.8" y1="406.9" x2="323.3" y2="406.9" stroke="#5a5a5a" stroke-width="1.0"/>
<text x="318.8" y="409.7" font-size="8.8" text-anchor="end" fill="#111">12</text>
<line x1="320.8" y1="384.25" x2="323.3" y2="384.25" stroke="#5a5a5a" stroke-width="1.0"/>
<text x="318.8" y="387.05" font-size="8.8" text-anchor="end" fill="#111">14</text>
<line x1="320.8" y1="361.6" x2="323.3" y2="361.6" stroke="#5a5a5a" stroke-width="1.0"/>
<text x="318.8" y="364.4" font-size="8.8" text-anchor="end" fill="#111">16</text>
<line x1="322" y1="531.47" x2="323.3" y2="531.47" stroke="#5a5a5a" stroke-width="0.9"/>
<line x1="322" y1="508.82" x2="323.3" y2="508.82" stroke="#5a5a5a" stroke-width="0.9"/>
<line x1="322" y1="486.17" x2="323.3" y2="486.17" stroke="#5a5a5a" stroke-width="0.9"/>
<line x1="322" y1="463.52" x2="323.3" y2="463.52" stroke="#5a5a5a" stroke-width="0.9"/>
<line x1="322" y1="440.87" x2="323.3" y2="440.87" stroke="#5a5a5a" stroke-width="0.9"/>
<line x1="322" y1="418.22" x2="323.3" y2="418.22" stroke="#5a5a5a" stroke-width="0.9"/>
<line x1="322" y1="395.57" x2="323.3" y2="395.57" stroke="#5a5a5a" stroke-width="0.9"/>
<line x1="322" y1="372.92" x2="323.3" y2="372.92" stroke="#5a5a5a" stroke-width="0.9"/>
<line x1="323.8" y1="554" x2="323.8" y2="556.6" stroke="#5a5a5a" stroke-width="1.0"/>
<text x="323.8" y="567.3" font-size="8.8" text-anchor="middle" fill="#111">0.00</text>
<line x1="352.8" y1="554" x2="352.8" y2="556.6" stroke="#5a5a5a" stroke-width="1.0"/>
<text x="352.8" y="567.3" font-size="8.8" text-anchor="middle" fill="#111">0.02</text>
<line x1="381.8" y1="554" x2="381.8" y2="556.6" stroke="#5a5a5a" stroke-width="1.0"/>
<text x="381.8" y="567.3" font-size="8.8" text-anchor="middle" fill="#111">0.04</text>
<line x1="410.8" y1="554" x2="410.8" y2="556.6" stroke="#5a5a5a" stroke-width="1.0"/>
<text x="410.8" y="567.3" font-size="8.8" text-anchor="middle" fill="#111">0.06</text>
<line x1="439.8" y1="554" x2="439.8" y2="556.6" stroke="#5a5a5a" stroke-width="1.0"/>
<text x="439.8" y="567.3" font-size="8.8" text-anchor="middle" fill="#111">0.08</text>
<line x1="468.8" y1="554" x2="468.8" y2="556.6" stroke="#5a5a5a" stroke-width="1.0"/>
<text x="468.8" y="567.3" font-size="8.8" text-anchor="middle" fill="#111">0.10</text>
<line x1="497.8" y1="554" x2="497.8" y2="556.6" stroke="#5a5a5a" stroke-width="1.0"/>
<text x="497.8" y="567.3" font-size="8.8" text-anchor="middle" fill="#111">0.12</text>
<line x1="526.8" y1="554" x2="526.8" y2="556.6" stroke="#5a5a5a" stroke-width="1.0"/>
<text x="526.8" y="567.3" font-size="8.8" text-anchor="middle" fill="#111">0.14</text>
<line x1="338.3" y1="554" x2="338.3" y2="555.5" stroke="#5a5a5a" stroke-width="0.9"/>
<line x1="367.3" y1="554" x2="367.3" y2="555.5" stroke="#5a5a5a" stroke-width="0.9"/>
<line x1="396.3" y1="554" x2="396.3" y2="555.5" stroke="#5a5a5a" stroke-width="0.9"/>
<line x1="425.3" y1="554" x2="425.3" y2="555.5" stroke="#5a5a5a" stroke-width="0.9"/>
<line x1="454.3" y1="554" x2="454.3" y2="555.5" stroke="#5a5a5a" stroke-width="0.9"/>
<line x1="483.3" y1="554" x2="483.3" y2="555.5" stroke="#5a5a5a" stroke-width="0.9"/>
<line x1="512.3" y1="554" x2="512.3" y2="555.5" stroke="#5a5a5a" stroke-width="0.9"/>
<text x="402.6" y="584.5" font-size="11.1" fill="#111">frequency [Hz]</text>
<text transform="translate(302.6,465.6) rotate(-90)" font-size="11.25" text-anchor="middle" fill="#111">PSD (low frequency activity) x10<tspan font-size="8.3" dy="-4.8">6</tspan></text>
<polyline points="323.8,543.1 333.4,534.9 342.9,485.3 352.8,460.9 362.2,374.5 371.9,542.3 381.6,539 391.2,533.9 400.9,526.5 410.5,541 420.2,538.7 429.7,541.2 439.4,531.9 449.1,540.9 458.7,542.5 468.3,542.3 478,542.5 487.6,542.5 497.2,542.3 506.8,542.3 516.4,543.1 526,542.5 535.5,543.1" fill="none" stroke="#333" stroke-width="0.8" stroke-linejoin="round" stroke-linecap="round"/>
<rect x="322" y="541.3" width="3.6" height="3.6" fill="#000" stroke="none" stroke-width="0"/>
<rect x="331.6" y="533.1" width="3.6" height="3.6" fill="#000" stroke="none" stroke-width="0"/>
<rect x="341.1" y="483.5" width="3.6" height="3.6" fill="#000" stroke="none" stroke-width="0"/>
<rect x="351" y="459.1" width="3.6" height="3.6" fill="#000" stroke="none" stroke-width="0"/>
<rect x="360.4" y="372.7" width="3.6" height="3.6" fill="#000" stroke="none" stroke-width="0"/>
<rect x="370.1" y="540.5" width="3.6" height="3.6" fill="#000" stroke="none" stroke-width="0"/>
<rect x="379.8" y="537.2" width="3.6" height="3.6" fill="#000" stroke="none" stroke-width="0"/>
<rect x="389.4" y="532.1" width="3.6" height="3.6" fill="#000" stroke="none" stroke-width="0"/>
<rect x="399.1" y="524.7" width="3.6" height="3.6" fill="#000" stroke="none" stroke-width="0"/>
<rect x="408.7" y="539.2" width="3.6" height="3.6" fill="#000" stroke="none" stroke-width="0"/>
<rect x="418.4" y="536.9" width="3.6" height="3.6" fill="#000" stroke="none" stroke-width="0"/>
<rect x="427.9" y="539.4" width="3.6" height="3.6" fill="#000" stroke="none" stroke-width="0"/>
<rect x="437.6" y="530.1" width="3.6" height="3.6" fill="#000" stroke="none" stroke-width="0"/>
<rect x="447.3" y="539.1" width="3.6" height="3.6" fill="#000" stroke="none" stroke-width="0"/>
<rect x="456.9" y="540.7" width="3.6" height="3.6" fill="#000" stroke="none" stroke-width="0"/>
<rect x="466.5" y="540.5" width="3.6" height="3.6" fill="#000" stroke="none" stroke-width="0"/>
<rect x="476.2" y="540.7" width="3.6" height="3.6" fill="#000" stroke="none" stroke-width="0"/>
<rect x="485.8" y="540.7" width="3.6" height="3.6" fill="#000" stroke="none" stroke-width="0"/>
<rect x="495.4" y="540.5" width="3.6" height="3.6" fill="#000" stroke="none" stroke-width="0"/>
<rect x="505" y="540.5" width="3.6" height="3.6" fill="#000" stroke="none" stroke-width="0"/>
<rect x="514.6" y="541.3" width="3.6" height="3.6" fill="#000" stroke="none" stroke-width="0"/>
<rect x="524.2" y="540.7" width="3.6" height="3.6" fill="#000" stroke="none" stroke-width="0"/>
<rect x="533.7" y="541.3" width="3.6" height="3.6" fill="#000" stroke="none" stroke-width="0"/>
<text x="326.3" y="371.8" font-size="12.2" font-weight="bold" fill="#000">ENDO</text>
<text x="371.2" y="406.8" font-size="12.6" font-weight="bold" fill="#000">NEURO</text>
<text x="429.1" y="481.8" font-size="12.45" font-weight="bold" fill="#000">MYO = VM</text>
<text x="13.2" y="619.6" font-size="27" fill="#000">C</text>
<text x="32.8" y="619.6" font-size="27" fill="#000">.</text>
<text x="48.6" y="614.5" font-size="15.4" font-weight="bold" fill="#000">Analysis of oscillations at the reperfusion line</text>
<rect x="48.4" y="632" width="39.6" height="18" fill="#effba6" stroke="none" stroke-width="0"/>
<rect x="88" y="632" width="45.8" height="18" fill="#dcfbb9" stroke="none" stroke-width="0"/>
<rect x="133.8" y="632" width="404.4" height="18" fill="#c8edfd" stroke="none" stroke-width="0"/>
<rect x="48.4" y="632" width="489.8" height="18" fill="none" stroke="#7a7a7a" stroke-width="0.9"/>
<line x1="88" y1="632" x2="88" y2="650" stroke="#7a7a7a" stroke-width="0.9"/>
<line x1="133.8" y1="632" x2="133.8" y2="650" stroke="#7a7a7a" stroke-width="0.9"/>
<text x="71.8" y="646.6" font-size="13" font-weight="bold" text-anchor="middle" fill="#000">9.3</text>
<text x="112.2" y="646.6" font-size="13" font-weight="bold" text-anchor="middle" fill="#000">10.5</text>
<text x="321.5" y="646.6" font-size="13" font-weight="bold" text-anchor="middle" fill="#000">81.2</text>
<line x1="48.4" y1="665" x2="48.4" y2="843" stroke="#5a5a5a" stroke-width="1.1"/>
<line x1="47.9" y1="842.4" x2="265.8" y2="842.4" stroke="#5a5a5a" stroke-width="1.1"/>
<line x1="45.6" y1="842.7" x2="48.4" y2="842.7" stroke="#5a5a5a" stroke-width="1.0"/>
<text x="43.8" y="845.6" font-size="8.8" text-anchor="end" fill="#111">0.85</text>
<line x1="45.6" y1="807.2" x2="48.4" y2="807.2" stroke="#5a5a5a" stroke-width="1.0"/>
<text x="43.8" y="810.1" font-size="8.8" text-anchor="end" fill="#111">0.90</text>
<line x1="45.6" y1="771.7" x2="48.4" y2="771.7" stroke="#5a5a5a" stroke-width="1.0"/>
<text x="43.8" y="774.6" font-size="8.8" text-anchor="end" fill="#111">0.95</text>
<line x1="45.6" y1="736.2" x2="48.4" y2="736.2" stroke="#5a5a5a" stroke-width="1.0"/>
<text x="43.8" y="739.1" font-size="8.8" text-anchor="end" fill="#111">1.00</text>
<line x1="45.6" y1="700.7" x2="48.4" y2="700.7" stroke="#5a5a5a" stroke-width="1.0"/>
<text x="43.8" y="703.6" font-size="8.8" text-anchor="end" fill="#111">1.05</text>
<line x1="45.6" y1="665.2" x2="48.4" y2="665.2" stroke="#5a5a5a" stroke-width="1.0"/>
<text x="43.8" y="668.1" font-size="8.8" text-anchor="end" fill="#111">1.10</text>
<line x1="46.9" y1="824.95" x2="48.4" y2="824.95" stroke="#5a5a5a" stroke-width="0.9"/>
<line x1="46.9" y1="789.45" x2="48.4" y2="789.45" stroke="#5a5a5a" stroke-width="0.9"/>
<line x1="46.9" y1="753.95" x2="48.4" y2="753.95" stroke="#5a5a5a" stroke-width="0.9"/>
<line x1="46.9" y1="718.45" x2="48.4" y2="718.45" stroke="#5a5a5a" stroke-width="0.9"/>
<line x1="46.9" y1="682.95" x2="48.4" y2="682.95" stroke="#5a5a5a" stroke-width="0.9"/>
<line x1="76.8" y1="842.4" x2="76.8" y2="845" stroke="#5a5a5a" stroke-width="1.0"/>
<text x="76.8" y="854.9" font-size="8.8" text-anchor="middle" fill="#111">7.0</text>
<line x1="116.2" y1="842.4" x2="116.2" y2="845" stroke="#5a5a5a" stroke-width="1.0"/>
<text x="116.2" y="854.9" font-size="8.8" text-anchor="middle" fill="#111">7.5</text>
<line x1="155.6" y1="842.4" x2="155.6" y2="845" stroke="#5a5a5a" stroke-width="1.0"/>
<text x="155.6" y="854.9" font-size="8.8" text-anchor="middle" fill="#111">8.0</text>
<line x1="195" y1="842.4" x2="195" y2="845" stroke="#5a5a5a" stroke-width="1.0"/>
<text x="195" y="854.9" font-size="8.8" text-anchor="middle" fill="#111">8.5</text>
<line x1="234.4" y1="842.4" x2="234.4" y2="845" stroke="#5a5a5a" stroke-width="1.0"/>
<text x="234.4" y="854.9" font-size="8.8" text-anchor="middle" fill="#111">9.0</text>
<line x1="57.1" y1="842.4" x2="57.1" y2="843.9" stroke="#5a5a5a" stroke-width="0.9"/>
<line x1="96.5" y1="842.4" x2="96.5" y2="843.9" stroke="#5a5a5a" stroke-width="0.9"/>
<line x1="135.9" y1="842.4" x2="135.9" y2="843.9" stroke="#5a5a5a" stroke-width="0.9"/>
<line x1="175.3" y1="842.4" x2="175.3" y2="843.9" stroke="#5a5a5a" stroke-width="0.9"/>
<line x1="214.7" y1="842.4" x2="214.7" y2="843.9" stroke="#5a5a5a" stroke-width="0.9"/>
<line x1="254.1" y1="842.4" x2="254.1" y2="843.9" stroke="#5a5a5a" stroke-width="0.9"/>
<text x="176.3" y="869.2" font-size="10.8" text-anchor="middle" fill="#111">time [min]</text>
<text transform="translate(16.7,744.4) rotate(-90)" font-size="10.6" text-anchor="middle" fill="#111">normalized fluorescence</text>
<polyline points="54.8,808 54.95,807.13 55.1,806.27 55.25,805.44 55.4,804.64 55.55,803.86 55.7,803.1 55.85,802.38 56,801.68 56.15,801.02 56.3,800.4 56.45,799.81 56.6,799.26 56.75,798.75 56.9,798.29 57.05,797.86 57.2,797.44 57.35,797.02 57.5,796.6 57.65,796.19 57.8,795.8 57.95,795.43 58.1,795.09 58.25,794.78 58.4,794.52 58.55,794.3 58.7,794.14 58.85,794.04 59,794 59.15,794.03 59.3,794.1 59.45,794.22 59.6,794.38 59.75,794.59 59.9,794.82 60.05,795.09 60.2,795.39 60.35,795.72 60.5,796.06 60.65,796.43 60.8,796.81 60.95,797.2 61.1,797.6 61.25,798.01 61.4,798.42 61.55,798.82 61.7,799.22 61.85,799.62 62,800 62.15,800.39 62.3,800.8 62.45,801.23 62.6,801.68 62.75,802.15 62.9,802.63 63.05,803.13 63.2,803.64 63.35,804.16 63.5,804.69 63.65,805.22 63.8,805.76 63.95,806.3 64.1,806.84 64.25,807.38 64.4,807.92 64.55,808.45 64.7,808.98 64.85,809.49 65,810 65.15,810.52 65.3,811.09 65.45,811.69 65.6,812.32 65.75,812.97 65.9,813.63 66.05,814.3 66.2,814.96 66.35,815.61 66.5,816.25 66.65,816.86 66.8,817.44 66.95,817.98 67.1,818.47 67.25,818.91 67.4,819.28 67.55,819.58 67.7,819.81 67.85,819.95 68,820 68.15,819.94 68.3,819.77 68.45,819.51 68.6,819.16 68.75,818.73 68.9,818.25 69.05,817.72 69.2,817.15 69.35,816.56 69.5,815.95 69.65,815.34 69.8,814.75 69.95,814.18 70.1,813.63 70.25,813.05 70.4,812.44 70.55,811.8 70.7,811.13 70.85,810.44 71,809.73 71.15,809 71.3,808.26 71.45,807.52 71.6,806.76 71.75,806 71.9,805.25 72.05,804.49 72.2,803.75 72.35,803.01 72.5,802.28 72.65,801.57 72.8,800.88 72.95,800.22 73.1,799.56 73.25,798.89 73.4,798.21 73.55,797.5 73.7,796.8 73.85,796.08 74,795.37 74.15,794.66 74.3,793.96 74.45,793.28 74.6,792.61 74.75,791.96 74.9,791.34 75.05,790.75 75.2,790.2 75.35,789.68 75.5,789.21 75.65,788.78 75.8,788.41 75.95,788.09 76.1,787.82 76.25,787.56 76.4,787.29 76.55,787.04 76.7,786.8 76.85,786.57 77,786.35 77.15,786.16 77.3,785.99 77.45,785.85 77.6,785.74 77.75,785.65 77.9,785.61 78.05,785.6 78.2,785.67 78.35,785.81 78.5,786.01 78.65,786.28 78.8,786.6 78.95,786.97 79.1,787.38 79.25,787.84 79.4,788.32 79.55,788.83 79.7,789.36 79.85,789.91 80,790.47 80.15,791.03 80.3,791.59 80.45,792.14 80.6,792.68 80.75,793.2 80.9,793.69 81.05,794.15 81.2,794.62 81.35,795.11 81.5,795.6 81.65,796.11 81.8,796.62 81.95,797.14 82.1,797.67 82.25,798.2 82.4,798.73 82.55,799.26 82.7,799.79 82.85,800.31 83,800.83 83.15,801.34 83.3,801.84 83.45,802.33 83.6,802.81 83.75,803.27 83.9,803.71 84.05,804.14 84.2,804.6 84.35,805.09 84.5,805.59 84.65,806.09 84.8,806.56 84.95,807 85.1,807.37 85.25,807.68 85.4,807.89 85.55,807.99 85.7,807.98 85.85,807.86 86,807.64 86.15,807.34 86.3,806.97 86.45,806.52 86.6,806.02 86.75,805.47 86.9,804.87 87.05,804.24 87.2,803.58 87.35,802.91 87.5,802.23 87.65,801.54 87.8,800.87 87.95,800.21 88.1,799.56 88.25,798.83 88.4,798.03 88.55,797.17 88.7,796.25 88.85,795.3 89,794.3 89.15,793.28 89.3,792.24 89.45,791.2 89.6,790.15 89.75,789.12 89.9,788.1 90.05,787.1 90.2,786.15 90.35,785.23 90.5,784.37 90.65,783.57 90.8,782.85 90.95,782.2 91.1,781.61 91.25,781.03 91.4,780.45 91.55,779.86 91.7,779.28 91.85,778.7 92,778.12 92.15,777.55 92.3,777 92.45,776.45 92.6,775.92 92.75,775.4 92.9,774.9 93.05,774.42 93.2,773.97 93.35,773.54 93.5,773.13 93.65,772.75 93.8,772.41 93.95,772.1 94.1,771.82 94.25,771.58 94.4,771.37 94.55,771.21 94.7,771.1 94.85,771.02 95,771 95.15,771.03 95.3,771.12 95.45,771.26 95.6,771.45 95.75,771.69 95.9,771.96 96.05,772.28 96.2,772.63 96.35,773.01 96.5,773.41 96.65,773.84 96.8,774.29 96.95,774.74 97.1,775.21 97.25,775.69 97.4,776.16 97.55,776.63 97.7,777.1 97.85,777.56 98,778 98.15,778.47 98.3,779.01 98.45,779.6 98.6,780.24 98.75,780.93 98.9,781.65 99.05,782.4 99.2,783.17 99.35,783.96 99.5,784.74 99.65,785.53 99.8,786.3 99.95,787.06 100.1,787.79 100.25,788.49 100.4,789.14 100.55,789.75 100.7,790.3 100.85,790.79 101,791.2 101.15,791.54 101.3,791.79 101.45,791.95 101.6,792 101.75,791.94 101.9,791.75 102.05,791.46 102.2,791.06 102.35,790.56 102.5,789.99 102.65,789.33 102.8,788.61 102.95,787.83 103.1,787 103.25,786.13 103.4,785.23 103.55,784.31 103.7,783.37 103.85,782.43 104,781.49 104.15,780.56 104.3,779.66 104.45,778.79 104.6,777.96 104.75,777.17 104.9,776.45 105.05,775.78 105.2,775.13 105.35,774.47 105.5,773.8 105.65,773.13 105.8,772.46 105.95,771.79 106.1,771.12 106.25,770.46 106.4,769.81 106.55,769.17 106.7,768.54 106.85,767.93 107,767.34 107.15,766.76 107.3,766.21 107.45,765.68 107.6,765.18 107.75,764.71 107.9,764.27 108.05,763.87 108.2,763.46 108.35,763.05 108.5,762.63 108.65,762.21 108.8,761.8 108.95,761.39 109.1,760.99 109.25,760.61 109.4,760.24 109.55,759.88 109.7,759.55 109.85,759.24 110,758.96 110.15,758.71 110.3,758.49 110.45,758.31 110.6,758.17 110.75,758.07 110.9,758.01 111.05,758 111.2,758.04 111.35,758.13 111.5,758.26 111.65,758.43 111.8,758.64 111.95,758.88 112.1,759.15 112.25,759.45 112.4,759.78 112.55,760.13 112.7,760.49 112.85,760.87 113,761.27 113.15,761.67 113.3,762.08 113.45,762.5 113.6,762.91 113.75,763.33 113.9,763.73 114.05,764.14 114.2,764.6 114.35,765.14 114.5,765.75 114.65,766.41 114.8,767.12 114.95,767.87 115.1,768.65 115.25,769.45 115.4,770.26 115.55,771.08 115.7,771.89 115.85,772.69 116,773.46 116.15,774.2 116.3,774.91 116.45,775.56 116.6,776.15 116.75,776.68 116.9,777.13 117.05,777.5 117.2,777.77 117.35,777.94 117.5,778 117.65,777.97 117.8,777.87 117.95,777.71 118.1,777.5 118.25,777.24 118.4,776.93 118.55,776.57 118.7,776.18 118.85,775.75 119,775.28 119.15,774.79 119.3,774.28 119.45,773.74 119.6,773.19 119.75,772.63 119.9,772.06 120.05,771.48 120.2,770.91 120.35,770.34 120.5,769.77 120.65,769.22 120.8,768.68 120.95,768.17 121.1,767.66 121.25,767.13 121.4,766.57 121.55,765.99 121.7,765.38 121.85,764.76 122,764.12 122.15,763.47 122.3,762.81 122.45,762.14 122.6,761.46 122.75,760.78 122.9,760.1 123.05,759.43 123.2,758.75 123.35,758.09 123.5,757.43 123.65,756.79 123.8,756.16 123.95,755.55 124.1,754.96 124.25,754.4 124.4,753.86 124.55,753.34 124.7,752.86 124.85,752.41 125,752 125.15,751.6 125.3,751.19 125.45,750.78 125.6,750.37 125.75,749.96 125.9,749.55 126.05,749.14 126.2,748.75 126.35,748.38 126.5,748.02 126.65,747.67 126.8,747.36 126.95,747.06 127.1,746.8 127.25,746.57 127.4,746.37 127.55,746.21 127.7,746.1 127.85,746.02 128,746 128.15,746.02 128.3,746.07 128.45,746.15 128.6,746.25 128.75,746.39 128.9,746.54 129.05,746.72 129.2,746.92 129.35,747.14 129.5,747.37 129.65,747.61 129.8,747.86 129.95,748.12 130.1,748.39 130.25,748.66 130.4,748.93 130.55,749.21 130.7,749.48 130.85,749.74 131,750 131.15,750.28 131.3,750.6 131.45,750.96 131.6,751.35 131.75,751.77 131.9,752.21 132.05,752.67 132.2,753.14 132.35,753.61 132.5,754.09 132.65,754.56 132.8,755.03 132.95,755.48 133.1,755.91 133.25,756.31 133.4,756.68 133.55,757.02 133.7,757.32 133.85,757.57 134,757.76 134.15,757.91 134.3,757.98 134.45,757.99 134.6,757.91 134.75,757.72 134.9,757.45 135.05,757.1 135.2,756.68 135.35,756.21 135.5,755.68 135.65,755.12 135.8,754.54 135.95,753.93 136.1,753.31 136.25,752.7 136.4,752.1 136.55,751.52 136.7,750.97 136.85,750.46 137,750 137.15,749.57 137.3,749.15 137.45,748.73 137.6,748.32 137.75,747.91 137.9,747.51 138.05,747.1 138.2,746.7 138.35,746.31 138.5,745.91 138.65,745.52 138.8,745.12 138.95,744.73 139.1,744.34 139.25,743.95 139.4,743.56 139.55,743.17 139.7,742.78 139.85,742.39 140,742 140.15,741.59 140.3,741.15 140.45,740.69 140.6,740.21 140.75,739.71 140.9,739.2 141.05,738.69 141.2,738.17 141.35,737.66 141.5,737.16 141.65,736.67 141.8,736.2 141.95,735.75 142.1,735.33 142.25,734.94 142.4,734.58 142.55,734.27 142.7,734.01 142.85,733.79 143,733.63 143.15,733.53 143.3,733.5 143.45,733.52 143.6,733.56 143.75,733.63 143.9,733.73 144.05,733.85 144.2,733.99 144.35,734.15 144.5,734.33 144.65,734.52 144.8,734.72 144.95,734.93 145.1,735.15 145.25,735.38 145.4,735.61 145.55,735.84 145.7,736.07 145.85,736.3 146,736.52 146.15,736.74 146.3,736.94 146.45,737.14 146.6,737.33 146.75,737.53 146.9,737.75 147.05,737.99 147.2,738.23 147.35,738.48 147.5,738.74 147.65,739 147.8,739.26 147.95,739.52 148.1,739.77 148.25,740.02 148.4,740.25 148.55,740.48 148.7,740.68 148.85,740.87 149,741.04 149.15,741.19 149.3,741.31 149.45,741.41 149.6,741.47 149.75,741.5 149.9,741.49 150.05,741.45 150.2,741.36 150.35,741.25 150.5,741.1 150.65,740.93 150.8,740.73 150.95,740.5 151.1,740.25 151.25,739.99 151.4,739.7 151.55,739.41 151.7,739.1 151.85,738.78 152,738.45 152.15,738.13 152.3,737.79 152.45,737.46 152.6,737.14 152.75,736.82 152.9,736.5 153.05,736.2 153.2,735.9 153.35,735.58 153.5,735.24 153.65,734.88 153.8,734.51 153.95,734.11 154.1,733.71 154.25,733.3 154.4,732.87 154.55,732.44 154.7,732 154.85,731.56 155,731.12 155.15,730.67 155.3,730.23 155.45,729.79 155.6,729.36 155.75,728.94 155.9,728.53 156.05,728.12 156.2,727.73 156.35,727.36 156.5,727 156.65,726.66 156.8,726.35 156.95,726.05 157.1,725.78 157.25,725.54 157.4,725.33 157.55,725.14 157.7,724.96 157.85,724.78 158,724.61 158.15,724.43 158.3,724.26 158.45,724.09 158.6,723.92 158.75,723.77 158.9,723.61 159.05,723.47 159.2,723.33 159.35,723.21 159.5,723.09 159.65,722.98 159.8,722.88 159.95,722.8 160.1,722.73 160.25,722.67 160.4,722.63 160.55,722.61 160.7,722.6 160.85,722.61 161,722.63 161.15,722.67 161.3,722.72 161.45,722.78 161.6,722.85 161.75,722.94 161.9,723.03 162.05,723.13 162.2,723.24 162.35,723.35 162.5,723.47 162.65,723.59 162.8,723.72 162.95,723.84 163.1,723.97 163.25,724.1 163.4,724.23 163.55,724.35 163.7,724.47 163.85,724.59 164,724.7 164.15,724.81 164.3,724.94 164.45,725.08 164.6,725.22 164.75,725.37 164.9,725.53 165.05,725.69 165.2,725.86 165.35,726.03 165.5,726.2 165.65,726.37 165.8,726.54 165.95,726.7 166.1,726.86 166.25,727.02 166.4,727.17 166.55,727.31 166.7,727.44 166.85,727.56 167,727.67 167.15,727.77 167.3,727.85 167.45,727.91 167.6,727.96 167.75,727.99 167.9,728 168.05,727.98 168.2,727.94 168.35,727.86 168.5,727.76 168.65,727.64 168.8,727.49 168.95,727.32 169.1,727.13 169.25,726.93 169.4,726.71 169.55,726.48 169.7,726.23 169.85,725.98 170,725.72 170.15,725.45 170.3,725.18 170.45,724.91 170.6,724.64 170.75,724.38 170.9,724.11 171.05,723.86 171.2,723.61 171.35,723.37 171.5,723.14 171.65,722.93 171.8,722.71 171.95,722.49 172.1,722.27 172.25,722.04 172.4,721.8 172.55,721.57 172.7,721.33 172.85,721.09 173,720.86 173.15,720.62 173.3,720.39 173.45,720.15 173.6,719.92 173.75,719.7 173.9,719.48 174.05,719.27 174.2,719.06 174.35,718.86 174.5,718.67 174.65,718.48 174.8,718.31 174.95,718.15 175.1,717.98 175.25,717.81 175.4,717.64 175.55,717.47 175.7,717.29 175.85,717.12 176,716.95 176.15,716.78 176.3,716.62 176.45,716.46 176.6,716.31 176.75,716.16 176.9,716.03 177.05,715.9 177.2,715.79 177.35,715.69 177.5,715.6 177.65,715.53 177.8,715.47 177.95,715.43 178.1,715.4 178.25,715.4 178.4,715.41 178.55,715.42 178.7,715.44 178.85,715.46 179,715.49 179.15,715.52 179.3,715.56 179.45,715.59 179.6,715.63 179.75,715.67 179.9,715.71 180.05,715.75 180.2,715.79 180.35,715.83 180.5,715.87 180.65,715.9 180.8,715.93 180.95,715.96 181.1,715.98 181.25,715.99 181.4,716 181.55,716 181.7,715.99 181.85,715.98 182,715.97 182.15,715.94 182.3,715.91 182.45,715.88 182.6,715.84 182.75,715.8 182.9,715.75 183.05,715.7 183.2,715.64 183.35,715.58 183.5,715.52 183.65,715.45 183.8,715.38 183.95,715.31 184.1,715.24 184.25,715.16 184.4,715.08 184.55,715 184.7,714.92 184.85,714.84 185,714.75 185.15,714.67 185.3,714.58 185.45,714.5 185.6,714.41 185.75,714.33 185.9,714.24 186.05,714.14 186.2,714.03 186.35,713.91 186.5,713.78 186.65,713.65 186.8,713.5 186.95,713.35 187.1,713.19 187.25,713.03 187.4,712.86 187.55,712.69 187.7,712.52 187.85,712.34 188,712.16 188.15,711.98 188.3,711.8 188.45,711.63 188.6,711.45 188.75,711.28 188.9,711.11 189.05,710.94 189.2,710.78 189.35,710.63 189.5,710.48 189.65,710.34 189.8,710.21 189.95,710.08 190.1,709.97 190.25,709.87 190.4,709.76 190.55,709.66 190.7,709.55 190.85,709.45 191,709.34 191.15,709.24 191.3,709.13 191.45,709.03 191.6,708.92 191.75,708.82 191.9,708.72 192.05,708.62 192.2,708.53 192.35,708.44 192.5,708.35 192.65,708.26 192.8,708.18 192.95,708.11 193.1,708.04 193.25,707.98 193.4,707.92 193.55,707.86 193.7,707.82 193.85,707.78 194,707.75 194.15,707.72 194.3,707.71 194.45,707.7 194.6,707.7 194.75,707.71 194.9,707.71 195.05,707.73 195.2,707.74 195.35,707.76 195.5,707.78 195.65,707.81 195.8,707.83 195.95,707.86 196.1,707.9 196.25,707.93 196.4,707.97 196.55,708.01 196.7,708.05 196.85,708.09 197,708.14 197.15,708.19 197.3,708.23 197.45,708.28 197.6,708.33 197.75,708.39 197.9,708.44 198.05,708.49 198.2,708.55 198.35,708.6 198.5,708.65 198.65,708.71 198.8,708.76 198.95,708.82 199.1,708.88 199.25,708.96 199.4,709.05 199.55,709.14 199.7,709.25 199.85,709.36 200,709.48 200.15,709.6 200.3,709.73 200.45,709.86 200.6,710 200.75,710.13 200.9,710.27 201.05,710.4 201.2,710.54 201.35,710.67 201.5,710.8 201.65,710.92 201.8,711.04 201.95,711.15 202.1,711.26 202.25,711.35 202.4,711.44 202.55,711.51 202.7,711.58 202.85,711.63 203,711.67 203.15,711.69 203.3,711.7 203.45,711.68 203.6,711.64 203.75,711.57 203.9,711.47 204.05,711.36 204.2,711.21 204.35,711.05 204.5,710.88 204.65,710.68 204.8,710.47 204.95,710.25 205.1,710.02 205.25,709.78 205.4,709.54 205.55,709.29 205.7,709.03 205.85,708.78 206,708.52 206.15,708.27 206.3,708.02 206.45,707.78 206.6,707.54 206.75,707.27 206.9,706.97 207.05,706.66 207.2,706.32 207.35,705.97 207.5,705.61 207.65,705.24 207.8,704.86 207.95,704.48 208.1,704.09 208.25,703.71 208.4,703.34 208.55,702.97 208.7,702.62 208.85,702.28 209,701.97 209.15,701.67 209.3,701.39 209.45,701.15 209.6,700.93 209.75,700.75 209.9,700.6 210.05,700.45 210.2,700.3 210.35,700.16 210.5,700.01 210.65,699.87 210.8,699.73 210.95,699.6 211.1,699.46 211.25,699.33 211.4,699.21 211.55,699.09 211.7,698.97 211.85,698.86 212,698.75 212.15,698.64 212.3,698.55 212.45,698.46 212.6,698.37 212.75,698.29 212.9,698.22 213.05,698.15 213.2,698.09 213.35,698.04 213.5,698 213.65,697.96 213.8,697.93 213.95,697.91 214.1,697.9 214.25,697.9 214.4,697.9 214.55,697.9 214.7,697.9 214.85,697.9 215,697.9 215.15,697.9 215.3,697.9 215.45,697.9 215.6,697.9 215.75,697.9 215.9,697.9 216.05,697.9 216.2,697.9 216.35,697.9 216.5,697.9 216.65,697.9 216.8,697.9 216.95,697.9 217.1,697.9 217.25,697.9 217.4,697.9 217.55,697.9 217.7,697.9 217.85,697.9 218,697.9 218.15,697.9 218.3,697.9 218.45,697.9 218.6,697.9 218.75,697.9 218.9,697.92 219.05,697.93 219.2,697.96 219.35,697.99 219.5,698.02 219.65,698.06 219.8,698.11 219.95,698.16 220.1,698.21 220.25,698.26 220.4,698.32 220.55,698.37 220.7,698.43 220.85,698.49 221,698.55 221.15,698.6 221.3,698.66 221.45,698.71 221.6,698.76 221.75,698.81 221.9,698.85 222.05,698.89 222.2,698.92 222.35,698.95 222.5,698.97 222.65,698.99 222.8,699 222.95,699 223.1,698.99 223.25,698.97 223.4,698.94 223.55,698.91 223.7,698.86 223.85,698.81 224,698.75 224.15,698.68 224.3,698.61 224.45,698.53 224.6,698.45 224.75,698.37 224.9,698.28 225.05,698.18 225.2,698.09 225.35,697.99 225.5,697.89 225.65,697.79 225.8,697.69 225.95,697.59 226.1,697.49 226.25,697.39 226.4,697.3 226.55,697.2 226.7,697.12 226.85,697.03 227,696.95 227.15,696.87 227.3,696.8 227.45,696.73 227.6,696.67 227.75,696.61 227.9,696.55 228.05,696.5 228.2,696.44 228.35,696.39 228.5,696.33 228.65,696.27 228.8,696.22 228.95,696.16 229.1,696.1 229.25,696.03 229.4,695.96 229.55,695.89 229.7,695.81 229.85,695.73 230,695.64 230.15,695.54 230.3,695.42 230.45,695.3 230.6,695.17 230.75,695.03 230.9,694.88 231.05,694.74 231.2,694.59 231.35,694.44 231.5,694.3 231.65,694.15 231.8,693.99 231.95,693.82 232.1,693.63 232.25,693.44 232.4,693.23 232.55,693.03 232.7,692.82 232.85,692.61 233,692.41 233.15,692.22 233.3,692.05 233.45,691.88 233.6,691.74 233.75,691.62 233.9,691.52 234.05,691.45 234.2,691.41 234.35,691.4 234.5,691.44 234.65,691.51 234.8,691.62 234.95,691.77 235.1,691.94 235.25,692.14 235.4,692.37 235.55,692.61 235.7,692.88 235.85,693.16 236,693.45 236.15,693.75 236.3,694.06 236.45,694.38 236.6,694.69 236.75,695 236.9,695.31 237.05,695.6 237.2,695.9 237.35,696.24 237.5,696.61 237.65,697.01 237.8,697.42 237.95,697.86 238.1,698.29 238.25,698.73 238.4,699.16 238.55,699.58 238.7,699.97 238.85,700.34 239,700.67 239.15,700.96 239.3,701.2 239.45,701.42 239.6,701.63 239.75,701.85 239.9,702.06 240.05,702.26 240.2,702.45 240.35,702.63 240.5,702.8 240.65,702.96 240.8,703.09 240.95,703.2 241.1,703.29 241.25,703.36 241.4,703.39 241.55,703.4 241.7,703.36 241.85,703.28 242,703.16 242.15,703.01 242.3,702.82 242.45,702.61 242.6,702.37 242.75,702.11 242.9,701.83 243.05,701.54 243.2,701.24 243.35,700.93 243.5,700.61 243.65,700.29 243.8,699.98 243.95,699.67 244.1,699.38 244.25,699.09 244.4,698.82 244.55,698.53 244.7,698.22 244.85,697.91 245,697.58 245.15,697.25 245.3,696.91 245.45,696.56 245.6,696.22 245.75,695.88 245.9,695.54 246.05,695.2 246.2,694.87 246.35,694.55 246.5,694.25 246.65,693.95 246.8,693.68 246.95,693.41 247.1,693.15 247.25,692.89 247.4,692.63 247.55,692.37 247.7,692.12 247.85,691.87 248,691.63 248.15,691.4 248.3,691.19 248.45,690.98 248.6,690.79 248.75,690.62 248.9,690.47 249.05,690.34 249.2,690.23 249.35,690.12 249.5,690.01 249.65,689.9 249.8,689.8 249.95,689.7 250.1,689.61 250.25,689.52 250.4,689.45 250.55,689.38 250.7,689.32 250.85,689.27 251,689.23 251.15,689.21" fill="none" stroke="#ababab" stroke-width="2.0" stroke-linejoin="round" stroke-linecap="round"/>
<polyline points="55.08,810.3 55.43,807.71 54.93,806.05 54.68,805.66 55.4,805.57 54.94,805 55.42,803.7 56.32,803.61 56.9,803.17 56.28,799.81 55.85,799.93 56.74,798.89 55.68,799.38 56.45,800.22 57.48,798.96 57.32,796.84 56.63,797.17 56.67,798.07 57.82,796.09 57.61,796.11 57.54,796.12 58.09,793.63 57.85,795.89 57.46,795.14 58.7,795.1 58.27,793.34 58.28,793.39 58.3,793.46 59.08,794.27 58.81,794.12 59.53,794.25 59.32,796.03 60.01,795.71 59.57,793.89 59.62,794.19 59.24,796.83 59.74,795.1 60.61,797.12 61.69,797.68 60.13,795.91 60.36,796.56 61.06,797.3 61.27,796.76 60.96,797.05 61.41,798.03 60.89,799.7 61.56,798.8 62.19,799.43 62.63,799.55 62.06,799.04 62.17,802.3 62.61,798.91 63.02,801.05 62.92,802.73 62.58,801.26 63.17,803.76 63.56,804.91 63.04,803.32 62.95,804.92 63.83,804.13 63.92,806.29 64.31,806.41 64.11,807.08 63.97,808.77 64.2,808.41 64.12,809.82 64.3,809.63 64.61,808.31 64.79,810.28 65.57,811.03 64.79,809.66 65.41,813.04 65.34,812.41 66.32,813.36 65.98,812.75 65.88,814.39 66.5,815.28 66.36,815.31 66.29,816.35 67.24,814.76 67.06,818.82 67.62,816.88 67.54,816.31 67.54,817.96 67.43,818.46 67.1,820.15 67.96,818.92 67.86,820.25 68.25,819.06 68.13,822.17 68.01,820.34 68.03,821.48 68.86,818.16 69.25,819.42 68.77,817.31 69.21,818.31 69.73,817.84 69,814.98 69.35,814.83 69.19,814.2 70.25,813.26 70.04,813.47 69.9,812.69 69.57,811.62 70.31,812.55 70.93,812.36 70.57,809.83 70.66,809.89 71.24,809.75 70.64,808.78 71.3,807.58 71.67,808.34 71.27,807.62 71.4,806.7 71.98,805.05 71.99,806.49 72.09,805.5 72.42,802.62 72.57,802.17 72.27,802.77 72.52,800.1 73.11,800.63 73.53,799.62 73.77,798.2 73.05,797.98 73.97,795.94 73.99,796.26 73.82,794.1 74.18,797.66 74.46,796.18 75,795.2 74.02,793.59 74.82,793.62 74.68,793.24 74.8,792.37 75.49,791.68 75.51,789.29 74.93,790.12 75.37,788.68 75.73,787.61 75.23,787.27 76.28,788.53 76.06,788.88 76.3,786.19 76.52,789.04 77.25,788.51 76.7,786.42 76.7,786.11 77.68,786.29 76.94,787.15 77.08,785.61 76.89,784.75 78.02,786.08 77.85,783.59 78.07,785.75 78.1,786.77 78.13,785.98 78.03,786.59 78.18,786.51 78.81,787.01 78.84,786.74 79.58,786.14 78.79,787.16 79.05,787.76 78.98,789.58 80.08,790.46 79.2,789.79 80.14,789.16 80.56,789.74 80.08,790.84 80.58,792.98 79.6,792.47 80.44,792.62 80.08,792.43 80.96,794.57 81.04,794.44 80.88,794.57 81.71,795.21 81.63,797.29 81.43,795.95 81.59,798.31 81.36,798.39 82.02,797.72 83.08,799.08 82.11,798.61 82.71,798.43 82.47,799.52 83.16,799.41 83.16,801.34 83.05,801.36 82.58,802.41 83.24,803.16 84.06,799.69 83.64,803.58 84.14,801.91 83.85,804.31 83.45,803.73 84.51,805.2 84.62,806.96 84.41,804.38 84.64,806.75 85.05,806.92 84.86,805.48 85.38,808.33 85.31,807.92 84.61,807.48 85.63,807.25 85.6,811.07 85.66,807.25 86.3,805.54 86.1,806.04 86.65,806.16 87.02,805.64 86.8,805.39 86.28,803.82 86.75,804.78 87.55,803.1 87.24,801.55 87.17,801.41 87.61,801.16 87.99,801.72 88.04,800.7 88.35,799.22 87.92,798.85 88.28,798.24 88.44,799.21 88.68,795.64 88.01,795.76 88.9,795.03 88.61,792.33 89.84,792.43 90.06,791.36 90.26,789.68 90.06,789.68 89.7,789.12 90.42,788.23 90.11,785.95 90.58,785.42 90.14,786.72 90.41,782.47 90.98,783.07 91.64,783.09 91.08,781.76 92.13,781.69 92.48,780.62 91.04,780.62 91.68,780.56 91.47,778.48 91.94,778.32 91.93,777.5 92.27,776.59 92.82,776.43 92.96,774.78 92.85,776.14 92.89,776.6 93.09,776.13 93.24,775.24 93.57,772.57 93.5,774.65 93.84,772.04 93.28,772.36 94.26,773.94 94.78,770.75 94.32,772.42 93.83,771.66 95.08,771.06 94.56,770.22 93.66,771.45 94.91,770.54 95.38,772.08 95.45,772.34 95.94,769.88 95.84,770.94 95.79,771.37 95.11,770.78 95.6,771.16 96.27,772.72 96.61,772.8 96.09,771.76 96.4,773.3 96.98,774.8 96.19,773.54 96.32,774.29 97.15,777.27 97.49,777.48 97.36,775.01 96.79,775.75 97.85,777.93 97.47,776.81 98.4,778.22 98.25,778.55 98.55,780.16 98.85,777.71 98.54,778.73 99.22,780.43 99.54,783.42 99.35,783.02 99.87,782.25 99.25,785.24 100.01,786.24 99.9,786.06 99.55,786.73 100.06,788.23 100.04,789.7 100.18,789.29 100.58,790.28 101.12,790.25 100.72,790.41 101.04,790.29 100.56,791.8 101.34,791.49 101.9,791.7 101.92,792.93 101.93,792.42 101.69,792.62 101.66,789.88 102.16,791.62 101.82,789.97 102.01,789.18 103.02,788.48 102.43,789.82 103.66,788.66 102.53,786.28 103.42,784.99 102.93,785.24 103.61,783.85 103.28,785.03 103.86,780.97 103.93,779.66 103.97,780.31 104.5,779.67 105.04,778.92 104.36,778.71 105.1,779.25 104.93,776.11 105.03,775.24 106.06,773.37 104.49,774.71 105.23,774.65 104.93,772.87 105.67,773.64 105.85,771.82 107.61,772.63 106.38,770.79 107.11,768.75 107.06,768.53 106.52,767.01 107.04,766.19 107.66,767.6 107.21,767.63 107.38,768.17 107.64,765.63 107,764.95 107.42,763.6 108.03,765.26 108.26,764.26 107.83,762.86 108.22,763.73 108.45,763.19 108.59,760.34 109.07,762.54 108.99,761.53 109.16,760.6 108.68,760.19 108.98,761.99 109.67,761.42 109.06,761.38 109.95,758.1 109.73,758.31 109.82,759.62 110.55,757.29 110.18,757.59 110.25,756.36 110.48,759.92 110.92,759.07 112.13,758.46 110.35,758.26 111.34,757.71 111.4,757.86 112.02,759.05 111.65,757.93 110.96,760.11 112.62,758.66 111.81,758.58 112.37,761.08 112,759.98 112.26,761.05 112.64,760.46 113.33,759.02 113.48,762.22 113.05,760.74 113.64,763.58 113.44,761.36 113.79,761.46 113.95,764.04 114.29,764.56 113.95,764.71 114.29,763.93 114.58,766.64 114.68,764.94 114.47,766.65 115.62,767.08 114.91,768.27 115.54,770.3 115.47,769.63 116.02,771.64 114.82,772.58 116.65,770.98 115.9,772.29 115.65,773.82 116.34,774.31 117.34,775.87 116.79,774.22 116.25,777.4 116.7,777.88 117.57,777.33 116.63,776.39 117.27,777.95 117.37,777.46 118.5,778.53 117.67,777.78 118.46,778.44 117.82,777.07 117.92,778.68 118.79,774.62 118.79,775.56 118,776.67 119.09,774.24 119.24,776.02 118.89,773.58 119.38,774.37 119.54,772.83 119.39,772.75 119.51,772.81 119.62,771.96 119.93,771.1 119.66,773.06 120.32,770.35 119.89,768.8 120.67,770.15 120.75,769.51 120.53,769.39 121.43,769.45 122.01,766.19 121.91,767.63 120.99,767.13 122.19,765.38 121.92,765.01 121.97,761.12 121.9,762.9 122.28,764.6 122.99,760.35 122.8,760.93 122.57,761.07 122.62,760.68 122.87,761.06 123.42,756.99 124.08,758.13 123.07,758.29 123.64,755.48 123.63,756.12 123.64,757.44 124.24,756.28 124.46,754.94 123.82,751.24 124.13,753.21 125.16,753.25 124.96,752.1 125.19,751.93 124.94,754.68 125.14,750.98 125.62,749.81 125.39,750.61 125.3,749.64 125.89,749.24 126.4,749.06 125.78,749.53 126.76,748.61 126.76,746.81 126.29,747.54 126.79,747.83 126.92,746.6 127.34,747.95 127.5,747.35 126.87,745.38 127,746.53 128.09,748.08 127.88,747.58 128.15,745.94 128.27,746.91 128.89,745.39 127.96,744.7 129.02,746.81 128.41,746.63 129.17,747.06 129.57,746.7 128.64,747.25 129.5,746.62 129.38,747.84 129.52,748.44 129.8,747.8 129.52,748.94 129.71,746.62 130.5,747.87 130.72,750.38 130.31,750.97 130.11,749.73 131.75,749.64 131.42,748.73 131.28,750.64 130.88,751.38 131.21,749.47 131.68,751.91 131.36,752.26 132.52,752.65 132.09,751.54 132.34,753.68 131.93,752.11 132.13,755.58 132.32,754.7 132.9,753.86 132.83,756.82 132.97,757.06 133.36,755.66 133.48,758.89 134.12,756.02 133.61,757.63 133.44,758.75 133.98,755.49 134.71,758.91 134.07,757.92 134.46,757.98 134.45,756.83 134.9,758.05 134.99,756.34 134.72,756.13 135.1,756.23 135.71,754.98 135.92,757.26 136,753.79 136.13,753.78 135.81,753.61 135.94,753.32 136.6,753.49 135.93,752.92 136.51,751.21 135.96,750.58 136.69,750.49 136.71,750.82 136.66,750.27 137.51,748.63 137.15,746.67 137.44,750.46 137.64,748.86 137.6,747.77 138.6,747.44 137.99,746.18 138.41,745.3 137.97,745.58 138.45,745.29 138.66,744.5 138.82,743.28 138.86,744.03 139.29,744.53 140,743.07 139.48,743.2 139.63,740.71 139.68,742.18 140.98,741.88 140.77,740.36 140.51,739.42 140.71,741.1 140.31,739.4 140.68,740.2 140.97,738.78 141.08,739.31 140.85,737.83 141.03,736.15 141.69,737.07 141.76,736.34 140.96,736.85 141.97,735.3 142.59,734.93 141.98,735.8 142.48,735.75 141.97,735.03 143.01,735.04 142.4,734.25 142.5,734.4 143.01,734.41 144.22,733.9 143.2,733.58 143.09,733.7 143.92,736.04 143.98,733.74 144.69,733.61 143.69,733.63 143.71,734.12 144.36,734.57 144.79,733.39 144.93,732.74 145.36,735.23 144.5,733.55 144.91,735.64 145.34,735.75 145.87,736.99 145.87,737.74 145.67,736.67 145.59,735.97 146.48,735.56 146.66,736.15 147.5,737.18 146.52,735.26 147.37,737.61 146.41,737.74 146.82,738.63 146.92,737.9 147.16,738.58 147.14,738 147.43,738.54 147.77,737.49 147.76,739.64 148.35,741.32 148.21,740.18 148.39,740.62 149.12,739.5 148.81,742.12 148.9,740.11 148.98,741.85 149.16,741.3 149.51,740.35 149.12,742.43 150.04,741.48 150.35,741.68 150.34,741.94 149.85,741.42 149.56,740.99 150.17,741.72 150.55,740.7 150.96,740.99 150.72,740.06 150.82,739.01 151.68,739.58 150.98,739.49 151.81,739.72 151.89,740.59 151.17,737.41 151.95,738.91 151.77,736.24 151.77,737.08 151.56,737.29 151.82,735.21 152.75,735.28 152.59,736.97 153,736.58 152.62,736.08 153.06,735.1 153.23,737.73 152.88,735.08 152.99,734.02 153.96,736.18 154,734.73 153.72,733.34 154.2,734.49 154.65,733.03 155.26,733.08 154.34,732.24 155.08,730.53 155.82,732.09 155.16,730.83 155.86,729.22 154.42,729.03 156.16,730.32 155.73,728.57 155.15,728.57 156.34,728.78 156.6,727.86 156.81,725.83 156.96,727.64 156.63,727.6 156.5,727.21 156.76,727.67 157.07,726.15 157.4,726.32 157.2,726.92 157.56,724.85 158.03,726.7 157.97,726.52 158.89,725.39 158.98,726.27 157.84,725.11 158.22,723.21 158.07,725.06 158.28,724.09 159.1,724.03 158.65,723.62 158.78,724.69 159.23,723.76 159.8,722.39 159.5,723.47 159.65,723.61 160.3,722.08 160.27,722.3 160.42,722.29 160.76,722.03 160.14,722.96 160.77,723.62 160.59,724.5 161.39,723.83 161.46,723.69 160.88,723.86 161.96,724.12 161.13,722.48 162.2,723.63 161.97,723.35 161.7,723 161.75,722.78 162.22,722.85 162.48,723.2 162.36,722.36 163.01,724.24 162.39,723.82 163.09,724.08 163.24,724.44 162.65,724.95 163.66,723.76 163.19,724.37 162.86,722.98 163.75,722.48 164.05,722.87 164.64,726.48 164.25,723.25 165.17,725.69 165.3,726.85 165.32,725.07 165.56,727.32 165.33,727.71 165.12,726.98 165.74,728.57 166.02,726.99 165.88,725.81 165.84,727.23 165.47,726.42 166.5,725.72 166.53,725.9 166.02,729.62 166.73,726.9 167.12,727.54 166.94,727.01 167.45,727.91 167.59,727.62 166.86,727.51 167.47,726.76 167.93,726.59 168.25,727.27 168.59,728.29 167.43,730.03 168.31,728.93 168.77,729.6 169.12,728.14 169.45,727.42 168.57,726.01 168.94,727.15 168.82,724.8 169.71,726.42 169.02,728.12 170.16,726.58 170.21,727.13 170.18,725.36 169.28,724.1 170.02,724.73 170.73,724.54 170.03,725.87 170.64,726.37 170.85,723.4 171.39,723.52 171.3,723.49 171.45,723.04 171.31,721.92 171.64,723.05 171.73,723.1 172.23,722.9 172.02,721.09 172.65,721.95 171.72,720.09 173.01,722.51 172.62,720.34 173.28,720.85 173.02,720.43 173.48,720.06 173.88,719.35 173.22,718.41 173.62,721.69 173.67,719.98 173.97,719.77 173.4,721.39 174.12,718.99 174.24,719.44 174.18,718.72 174.56,719.7 174.18,718.84 175.49,718.49 175.26,717.76 175.98,718.12 175.04,718.84 175.08,715.42 175.8,717.2 175.18,716.74 176.08,716.68 175.86,714.84 176.15,717.38 176.54,715.65 176.6,716.11 177.47,715.69 177.14,714.39 176.53,715.49 177.57,713.98 176.81,714.78 177.52,715.32 177.14,715.55 177.46,715.56 178.46,715.32 177.87,717.58 177.98,715.87 178.16,714.22 178.41,714.84 179.26,714.81 178.37,715.32 178.5,714.92 179.36,714.7 178.65,717.24 179.29,715.67 180.03,715.33 179.74,715.45 179.69,715.53 179.75,717.18 179.82,716.31 180.1,716.99 180.54,712.78 181.13,716.26 181.17,717.02 180.71,717.96 180.79,716.04 181.51,714.31 180.67,716.62 181.36,715.44 181.55,714.24 181.39,715.4 181.59,717.06 182.27,717.18 181.63,716.67 182.07,714.87 182.32,718.39 182.76,714.67 182.34,715.71 183.46,714.29 183.06,717 183.23,716.07 183.33,716.45 183.36,715.58 183.39,715.35 184.38,715.53 184.16,713.39 184.18,716.19 184.77,716.04 184.24,714.65 184.92,714.95 184.83,715.18 184.62,716.36 185.42,715.14 184.68,714.67 185.68,714.03 185.22,712.95 185.88,713.77 186.42,714.35 186.25,713.93 185.93,714.15 186.31,714.7 186.33,714.26 186.16,713.97 186.33,714.2 186.94,713.58 187.28,713.21 186.52,713.54 187.34,711.18 187.72,713.99 187.71,711.27 187.42,713.22 188.38,712.22 187.64,713.14 188.52,711.89 189.05,710.73 187.76,712.57 188.82,711.51 188.99,711.28 189.11,711.07 188.86,711.83 189.19,711.5 188.92,710.76 189.67,708.84 189.98,709.85 189.65,710.24 189.7,711.82 190.03,710.3 190.36,709.72 190.54,710.91 190.62,709.5 190.84,709.47 190.45,709.55 190.04,707.79 191.51,710.14 191.97,709.5 191.01,708.69 191.45,707.73 191.98,708.99 192.39,710.08 192.42,707.94 192.81,707.43 192.44,708.82 192.77,706.72 192.92,706.02 192.74,707.72 193.53,707.41 193.46,707.75 193.75,707.42 193.36,708.25 194.07,707.65 193.4,707.24 194.12,707.35 193.09,708.41 193.87,708.72 194.7,708.66 194.38,708.46 194.78,704.47 194.23,706.77 195.62,707.47 195.39,708 195.3,706.2 195.62,709.26 195.74,708.17 196.31,707.27 195.99,708.09 195.48,707.61 196.11,707.23 196.86,708.54 196.73,707.62 196.5,706.7 197.05,707.52 197.01,708.09 197.35,707.17 196.64,709.56 197.06,707.26 197.82,710.15 197.62,709.34 198,707.56 198.78,708.68 198.04,709.79 198.4,708.47 198.24,707.52 198.37,708.88 198.73,710.82 198.34,707.39 198.24,709.5 199.74,709.03 199.32,708.99 199.95,708.82 199.71,708.99 199.87,710.46 200.22,710.14 200.39,708.67 199.79,711.36 200.88,708.63 200.18,710.73 200.79,710.38 201.86,711.54 201.04,710.83 201.81,711.66 201.17,710.72 201.7,711.84 201.63,711.34 201.92,713.26 201.58,710.53 201.7,712.52 202.34,711.89 201.75,711.69 202.18,711.02 202.91,712.1 202.57,710.23 202.61,710.37 202.68,712.48 203.32,710.22 203.27,713.2 203.62,711.44 203.64,711.89 204.58,711.62 203.84,711.85 203.4,711.01 204.36,710.76 204.46,710.82 204.67,711.81 204.13,711.68 205.35,711.6 205.05,710.46 205.19,709.66 204.74,707.93 205.7,710 205.64,709.95 206.34,708.45 205.8,709.4 205.63,709.63 206.31,708.19 206.05,708.91 206.72,707.92 206.29,705.61 206.81,706.58 206.92,706.32 207.15,706.93 207.11,705.19 207.15,705.25 207.59,704.35 207.54,704.9 207.97,704.62 207.95,705.14 207.34,704.59 208.34,703.58 209.05,703.29 208.78,702.81 209.04,702.47 209.14,703.59 208.93,699.26 208.74,701.3 209.73,701.54 209.97,702.14 209.93,699.74 210.03,701.02 210.16,701.39 210.15,699.93 210.42,698.32 210.47,699.73 210.74,698.75 210.4,700.46 210.67,698.82 211.28,701.32 211.08,699.55 210.43,698.48 211.56,698.66 210.78,697.95 212.55,699.32 212.24,700.32 212.37,698.51 212.01,699.55 211.98,697.59 212.48,698.75 212.72,700.67 212.57,696.89 213.07,699.46 213.43,699.34 213.54,696.24 213.06,696.64 212.78,697.06 213.76,698.98 213.66,697.56 214.23,697.81 214.84,698.68 214.99,698.09 214.62,698.2 215.09,697.66 215.44,699.1 214.98,697.2 215.22,699.65 215.59,697.64 215.4,697.18 215.37,698.62 215.43,698.43 215.87,696 215.78,698.2 216.47,696.63 216.19,697.15 217.03,698.76 217.08,697.11 216.29,698.33 217.33,697.59 216.91,699.91 217.74,697.88 217.56,696.8 217.5,696.87 217.93,697.07 217.61,698.1 218.09,697.97 218.27,698.94 218.21,698.14 218.57,698.1 218.19,698.29 218.93,697.84 218.41,698.28 219.26,698.78 219.35,698.81 219.59,697.51 219.26,696.32 220.78,697.32 219.69,698.46 219.98,695.73 219.79,697.8 220.77,698.77 220.19,697.82 220.9,697.32 220.31,700.25 220.94,699.94 220.83,698.35 221.48,699.99 221.17,700.02 221.1,697.64 221.75,701.5 221.27,697.93 221.51,698.65 222.32,697.85 221.47,699.06 222.62,697.69 222.33,699.02 222.28,700.13 222.87,699.27 223.17,698.79 222.86,700.59 223.16,698.13 223.68,699.97 223.82,698.66 223.66,699.13 223.54,698.89 223.62,698.93 223.91,698.68 224.54,697.88 224.65,698.02 224.7,698.94 225.26,698.31 224.77,697.16 224.89,697.52 225.04,697.44 226.06,697.98 224.71,698.11 225.75,697.93 225.95,697.08 225.96,697.65 226.97,696.16 226.68,694.55 226.68,697.28 226.2,695.59 226.88,696.21 226.7,695.86 227.01,697.61 227.21,695.7 227.11,697.11 227.68,696.28 228.2,695.47 228.13,695.07 227.97,697.04 227.31,696.91 228.6,697.24 228.75,698.24 228.42,696.63 228.46,696.58 229.04,696.12 228.64,696.29 229.39,695.77 228.84,695.16 229.05,697.98 229.55,694.05 229.15,696.08 229.84,696.19 230.19,695.8 229.65,694.59 230.64,695.24 230.23,694.85 230.8,694.1 230.83,694.99 230.72,694.49 230.85,694.19 230.55,695.28 231.08,693.39 231.21,694.74 232.26,693.55 232.18,694.42 231.43,693.89 232.4,693.88 232.33,692.46 232.25,692.46 232.72,692.17 232.99,692.99 232.63,693.36 232.89,693.49 233.21,691.72 232.93,692.13 233.52,690.26 233.57,689.52 233.49,690.75 233.58,690.85 234.16,689.89 234.53,689.62 234.47,691.93 234.18,690.63 234.93,689.82 234.86,693.93 235.17,691.92 235.53,691.61 234.91,692.8 235.35,691.59 235.32,694.18 235.37,691.33 236.6,691.84 236.35,693.3 235.49,692.97 236.46,695.45 236.24,692.76 237.03,693.94 236.78,695.21 236.83,695.84 237.1,696.58 237.34,696.22 237.36,698.41 237.42,696.11 237.6,697.15 237.99,698.25 237.53,697.51 238.1,697.97 238.2,698.24 238.22,698.49 238.82,698.42 238.22,699.38 238.71,698.76 238.68,701.01 239.35,699.33 239.12,703.22 239.47,703.07 239.74,702.69 239.15,701.59 240.07,701.43 239.77,703.44 240.1,702.59 240.31,703.15 240.8,702.04 240.93,703.97 241.46,702.25 241.02,703.26 240.92,701.52 241.06,702.66 241.64,703.85 242.15,702.9 241.83,702.87 241.63,704.02 242.1,703.04 242.25,704.2 242.31,700.37 242.17,703.13 241.65,702.83 242.55,700.52 243.29,700.49 243.13,702.36 242.37,700.12 243.35,700.24 242.81,701.15 244.39,699.91 243.87,700.4 243.5,698.76 244.4,699.62 243.96,700.12 244.61,699.09 244.56,696.29 244.26,698.82 245.1,697.91 244.5,696.62 245.65,698.58 245.32,695.12 245.07,698.38 244.92,695.54 246.35,697.39 246.44,695.44 245.58,693.82 246.82,694.91 246.41,694.83 246.42,694.73 246.62,694.96 246.7,692.73 247.48,693.85 247.16,693.83 246.56,692.57 248.18,691.65 247.88,691.37 247.29,692.81 247.72,692.61 247.66,690.75 248.17,690.02 248.45,692.36 248.54,689.38 248.38,690.9 248.45,689.76 249.22,688.67 249.01,690.41 250.04,689.98 249.05,691.49 249.79,692.21 249.67,689.66 249.52,690.76 250.46,690.69 250.15,689.03 249.92,688.61 250.28,690.99 250.93,688.96 250.24,689.24 251.37,688.93 251.26,689.05 251.05,688.55" fill="none" stroke="#333" stroke-width="0.4" stroke-linejoin="round" stroke-linecap="round"/>
<polyline points="54.8,808 54.95,807.13 55.1,806.27 55.25,805.44 55.4,804.64 55.55,803.86 55.7,803.1 55.85,802.38 56,801.68 56.15,801.02 56.3,800.4 56.45,799.81 56.6,799.26 56.75,798.75 56.9,798.29 57.05,797.86 57.2,797.44 57.35,797.02 57.5,796.6 57.65,796.19 57.8,795.8 57.95,795.43 58.1,795.09 58.25,794.78 58.4,794.52 58.55,794.3 58.7,794.14 58.85,794.04 59,794 59.15,794.03 59.3,794.1 59.45,794.22 59.6,794.38 59.75,794.59 59.9,794.82 60.05,795.09 60.2,795.39 60.35,795.72 60.5,796.06 60.65,796.43 60.8,796.81 60.95,797.2 61.1,797.6 61.25,798.01 61.4,798.42 61.55,798.82 61.7,799.22 61.85,799.62 62,800 62.15,800.39 62.3,800.8 62.45,801.23 62.6,801.68 62.75,802.15 62.9,802.63 63.05,803.13 63.2,803.64 63.35,804.16 63.5,804.69 63.65,805.22 63.8,805.76 63.95,806.3 64.1,806.84 64.25,807.38 64.4,807.92 64.55,808.45 64.7,808.98 64.85,809.49 65,810 65.15,810.52 65.3,811.09 65.45,811.69 65.6,812.32 65.75,812.97 65.9,813.63 66.05,814.3 66.2,814.96 66.35,815.61 66.5,816.25 66.65,816.86 66.8,817.44 66.95,817.98 67.1,818.47 67.25,818.91 67.4,819.28 67.55,819.58 67.7,819.81 67.85,819.95 68,820 68.15,819.94 68.3,819.77 68.45,819.51 68.6,819.16 68.75,818.73 68.9,818.25 69.05,817.72 69.2,817.15 69.35,816.56 69.5,815.95 69.65,815.34 69.8,814.75 69.95,814.18 70.1,813.63 70.25,813.05 70.4,812.44 70.55,811.8 70.7,811.13 70.85,810.44 71,809.73 71.15,809 71.3,808.26 71.45,807.52 71.6,806.76 71.75,806 71.9,805.25 72.05,804.49 72.2,803.75 72.35,803.01 72.5,802.28 72.65,801.57 72.8,800.88 72.95,800.22 73.1,799.56 73.25,798.89 73.4,798.21 73.55,797.5 73.7,796.8 73.85,796.08 74,795.37 74.15,794.66 74.3,793.96 74.45,793.28 74.6,792.61 74.75,791.96 74.9,791.34 75.05,790.75 75.2,790.2 75.35,789.68 75.5,789.21 75.65,788.78 75.8,788.41 75.95,788.09 76.1,787.82 76.25,787.56 76.4,787.29 76.55,787.04 76.7,786.8 76.85,786.57 77,786.35 77.15,786.16 77.3,785.99 77.45,785.85 77.6,785.74 77.75,785.65 77.9,785.61 78.05,785.6 78.2,785.67 78.35,785.81 78.5,786.01 78.65,786.28 78.8,786.6 78.95,786.97 79.1,787.38 79.25,787.84 79.4,788.32 79.55,788.83 79.7,789.36 79.85,789.91 80,790.47 80.15,791.03 80.3,791.59 80.45,792.14 80.6,792.68 80.75,793.2 80.9,793.69 81.05,794.15 81.2,794.62 81.35,795.11 81.5,795.6 81.65,796.11 81.8,796.62 81.95,797.14 82.1,797.67 82.25,798.2 82.4,798.73 82.55,799.26 82.7,799.79 82.85,800.31 83,800.83 83.15,801.34 83.3,801.84 83.45,802.33 83.6,802.81 83.75,803.27 83.9,803.71 84.05,804.14 84.2,804.6 84.35,805.09 84.5,805.59 84.65,806.09 84.8,806.56 84.95,807 85.1,807.37 85.25,807.68 85.4,807.89 85.55,807.99 85.7,807.98 85.85,807.86 86,807.64 86.15,807.34 86.3,806.97 86.45,806.52 86.6,806.02 86.75,805.47 86.9,804.87 87.05,804.24 87.2,803.58 87.35,802.91 87.5,802.23 87.65,801.54 87.8,800.87 87.95,800.21 88.1,799.56 88.25,798.83 88.4,798.03 88.55,797.17 88.7,796.25 88.85,795.3 89,794.3 89.15,793.28 89.3,792.24 89.45,791.2 89.6,790.15 89.75,789.12 89.9,788.1 90.05,787.1 90.2,786.15 90.35,785.23 90.5,784.37 90.65,783.57 90.8,782.85 90.95,782.2 91.1,781.61 91.25,781.03 91.4,780.45 91.55,779.86 91.7,779.28 91.85,778.7 92,778.12 92.15,777.55 92.3,777 92.45,776.45 92.6,775.92 92.75,775.4 92.9,774.9 93.05,774.42 93.2,773.97 93.35,773.54 93.5,773.13 93.65,772.75 93.8,772.41 93.95,772.1 94.1,771.82 94.25,771.58 94.4,771.37 94.55,771.21 94.7,771.1 94.85,771.02 95,771 95.15,771.03 95.3,771.12 95.45,771.26 95.6,771.45 95.75,771.69 95.9,771.96 96.05,772.28 96.2,772.63 96.35,773.01 96.5,773.41 96.65,773.84 96.8,774.29 96.95,774.74 97.1,775.21 97.25,775.69 97.4,776.16 97.55,776.63 97.7,777.1 97.85,777.56 98,778 98.15,778.47 98.3,779.01 98.45,779.6 98.6,780.24 98.75,780.93 98.9,781.65 99.05,782.4 99.2,783.17 99.35,783.96 99.5,784.74 99.65,785.53 99.8,786.3 99.95,787.06 100.1,787.79 100.25,788.49 100.4,789.14 100.55,789.75 100.7,790.3 100.85,790.79 101,791.2 101.15,791.54 101.3,791.79 101.45,791.95 101.6,792 101.75,791.94 101.9,791.75 102.05,791.46 102.2,791.06 102.35,790.56 102.5,789.99 102.65,789.33 102.8,788.61 102.95,787.83 103.1,787 103.25,786.13 103.4,785.23 103.55,784.31 103.7,783.37 103.85,782.43 104,781.49 104.15,780.56 104.3,779.66 104.45,778.79 104.6,777.96 104.75,777.17 104.9,776.45 105.05,775.78 105.2,775.13 105.35,774.47 105.5,773.8 105.65,773.13 105.8,772.46 105.95,771.79 106.1,771.12 106.25,770.46 106.4,769.81 106.55,769.17 106.7,768.54 106.85,767.93 107,767.34 107.15,766.76 107.3,766.21 107.45,765.68 107.6,765.18 107.75,764.71 107.9,764.27 108.05,763.87 108.2,763.46 108.35,763.05 108.5,762.63 108.65,762.21 108.8,761.8 108.95,761.39 109.1,760.99 109.25,760.61 109.4,760.24 109.55,759.88 109.7,759.55 109.85,759.24 110,758.96 110.15,758.71 110.3,758.49 110.45,758.31 110.6,758.17 110.75,758.07 110.9,758.01 111.05,758 111.2,758.04 111.35,758.13 111.5,758.26 111.65,758.43 111.8,758.64 111.95,758.88 112.1,759.15 112.25,759.45 112.4,759.78 112.55,760.13 112.7,760.49 112.85,760.87 113,761.27 113.15,761.67 113.3,762.08 113.45,762.5 113.6,762.91 113.75,763.33 113.9,763.73 114.05,764.14 114.2,764.6 114.35,765.14 114.5,765.75 114.65,766.41 114.8,767.12 114.95,767.87 115.1,768.65 115.25,769.45 115.4,770.26 115.55,771.08 115.7,771.89 115.85,772.69 116,773.46 116.15,774.2 116.3,774.91 116.45,775.56 116.6,776.15 116.75,776.68 116.9,777.13 117.05,777.5 117.2,777.77 117.35,777.94 117.5,778 117.65,777.97 117.8,777.87 117.95,777.71 118.1,777.5 118.25,777.24 118.4,776.93 118.55,776.57 118.7,776.18 118.85,775.75 119,775.28 119.15,774.79 119.3,774.28 119.45,773.74 119.6,773.19 119.75,772.63 119.9,772.06 120.05,771.48 120.2,770.91 120.35,770.34 120.5,769.77 120.65,769.22 120.8,768.68 120.95,768.17 121.1,767.66 121.25,767.13 121.4,766.57 121.55,765.99 121.7,765.38 121.85,764.76 122,764.12 122.15,763.47 122.3,762.81 122.45,762.14 122.6,761.46 122.75,760.78 122.9,760.1 123.05,759.43 123.2,758.75 123.35,758.09 123.5,757.43 123.65,756.79 123.8,756.16 123.95,755.55 124.1,754.96 124.25,754.4 124.4,753.86 124.55,753.34 124.7,752.86 124.85,752.41 125,752 125.15,751.6 125.3,751.19 125.45,750.78 125.6,750.37 125.75,749.96 125.9,749.55 126.05,749.14 126.2,748.75 126.35,748.38 126.5,748.02 126.65,747.67 126.8,747.36 126.95,747.06 127.1,746.8 127.25,746.57 127.4,746.37 127.55,746.21 127.7,746.1 127.85,746.02 128,746 128.15,746.02 128.3,746.07 128.45,746.15 128.6,746.25 128.75,746.39 128.9,746.54 129.05,746.72 129.2,746.92 129.35,747.14 129.5,747.37 129.65,747.61 129.8,747.86 129.95,748.12 130.1,748.39 130.25,748.66 130.4,748.93 130.55,749.21 130.7,749.48 130.85,749.74 131,750 131.15,750.28 131.3,750.6 131.45,750.96 131.6,751.35 131.75,751.77 131.9,752.21 132.05,752.67 132.2,753.14 132.35,753.61 132.5,754.09 132.65,754.56 132.8,755.03 132.95,755.48 133.1,755.91 133.25,756.31 133.4,756.68 133.55,757.02 133.7,757.32 133.85,757.57 134,757.76 134.15,757.91 134.3,757.98 134.45,757.99 134.6,757.91 134.75,757.72 134.9,757.45 135.05,757.1 135.2,756.68 135.35,756.21 135.5,755.68 135.65,755.12 135.8,754.54 135.95,753.93 136.1,753.31 136.25,752.7 136.4,752.1 136.55,751.52 136.7,750.97 136.85,750.46 137,750 137.15,749.57 137.3,749.15 137.45,748.73 137.6,748.32 137.75,747.91 137.9,747.51 138.05,747.1 138.2,746.7 138.35,746.31 138.5,745.91 138.65,745.52 138.8,745.12 138.95,744.73 139.1,744.34 139.25,743.95 139.4,743.56 139.55,743.17 139.7,742.78 139.85,742.39 140,742 140.15,741.59 140.3,741.15 140.45,740.69 140.6,740.21 140.75,739.71 140.9,739.2 141.05,738.69 141.2,738.17 141.35,737.66 141.5,737.16 141.65,736.67 141.8,736.2 141.95,735.75 142.1,735.33 142.25,734.94 142.4,734.58 142.55,734.27 142.7,734.01 142.85,733.79 143,733.63 143.15,733.53 143.3,733.5 143.45,733.52 143.6,733.56 143.75,733.63 143.9,733.73 144.05,733.85 144.2,733.99 144.35,734.15 144.5,734.33 144.65,734.52 144.8,734.72 144.95,734.93 145.1,735.15 145.25,735.38 145.4,735.61 145.55,735.84 145.7,736.07 145.85,736.3 146,736.52 146.15,736.74 146.3,736.94 146.45,737.14 146.6,737.33 146.75,737.53 146.9,737.75 147.05,737.99 147.2,738.23 147.35,738.48 147.5,738.74 147.65,739 147.8,739.26 147.95,739.52 148.1,739.77 148.25,740.02 148.4,740.25 148.55,740.48 148.7,740.68 148.85,740.87 149,741.04 149.15,741.19 149.3,741.31 149.45,741.41 149.6,741.47 149.75,741.5 149.9,741.49 150.05,741.45 150.2,741.36 150.35,741.25 150.5,741.1 150.65,740.93 150.8,740.73 150.95,740.5 151.1,740.25 151.25,739.99 151.4,739.7 151.55,739.41 151.7,739.1 151.85,738.78 152,738.45 152.15,738.13 152.3,737.79 152.45,737.46 152.6,737.14 152.75,736.82 152.9,736.5 153.05,736.2 153.2,735.9 153.35,735.58 153.5,735.24 153.65,734.88 153.8,734.51 153.95,734.11 154.1,733.71 154.25,733.3 154.4,732.87 154.55,732.44 154.7,732 154.85,731.56 155,731.12 155.15,730.67 155.3,730.23 155.45,729.79 155.6,729.36 155.75,728.94 155.9,728.53 156.05,728.12 156.2,727.73 156.35,727.36 156.5,727 156.65,726.66 156.8,726.35 156.95,726.05 157.1,725.78 157.25,725.54 157.4,725.33 157.55,725.14 157.7,724.96 157.85,724.78 158,724.61 158.15,724.43 158.3,724.26 158.45,724.09 158.6,723.92 158.75,723.77 158.9,723.61 159.05,723.47 159.2,723.33 159.35,723.21 159.5,723.09 159.65,722.98 159.8,722.88 159.95,722.8 160.1,722.73 160.25,722.67 160.4,722.63 160.55,722.61 160.7,722.6 160.85,722.61 161,722.63 161.15,722.67 161.3,722.72 161.45,722.78 161.6,722.85 161.75,722.94 161.9,723.03 162.05,723.13 162.2,723.24 162.35,723.35 162.5,723.47 162.65,723.59 162.8,723.72 162.95,723.84 163.1,723.97 163.25,724.1 163.4,724.23 163.55,724.35 163.7,724.47 163.85,724.59 164,724.7 164.15,724.81 164.3,724.94 164.45,725.08 164.6,725.22 164.75,725.37 164.9,725.53 165.05,725.69 165.2,725.86 165.35,726.03 165.5,726.2 165.65,726.37 165.8,726.54 165.95,726.7 166.1,726.86 166.25,727.02 166.4,727.17 166.55,727.31 166.7,727.44 166.85,727.56 167,727.67 167.15,727.77 167.3,727.85 167.45,727.91 167.6,727.96 167.75,727.99 167.9,728 168.05,727.98 168.2,727.94 168.35,727.86 168.5,727.76 168.65,727.64 168.8,727.49 168.95,727.32 169.1,727.13 169.25,726.93 169.4,726.71 169.55,726.48 169.7,726.23 169.85,725.98 170,725.72 170.15,725.45 170.3,725.18 170.45,724.91 170.6,724.64 170.75,724.38 170.9,724.11 171.05,723.86 171.2,723.61 171.35,723.37 171.5,723.14 171.65,722.93 171.8,722.71 171.95,722.49 172.1,722.27 172.25,722.04 172.4,721.8 172.55,721.57 172.7,721.33 172.85,721.09 173,720.86 173.15,720.62 173.3,720.39 173.45,720.15 173.6,719.92 173.75,719.7 173.9,719.48 174.05,719.27 174.2,719.06 174.35,718.86 174.5,718.67 174.65,718.48 174.8,718.31 174.95,718.15 175.1,717.98 175.25,717.81 175.4,717.64 175.55,717.47 175.7,717.29 175.85,717.12 176,716.95 176.15,716.78 176.3,716.62 176.45,716.46 176.6,716.31 176.75,716.16 176.9,716.03 177.05,715.9 177.2,715.79 177.35,715.69 177.5,715.6 177.65,715.53 177.8,715.47 177.95,715.43 178.1,715.4 178.25,715.4 178.4,715.41 178.55,715.42 178.7,715.44 178.85,715.46 179,715.49 179.15,715.52 179.3,715.56 179.45,715.59 179.6,715.63 179.75,715.67 179.9,715.71 180.05,715.75 180.2,715.79 180.35,715.83 180.5,715.87 180.65,715.9 180.8,715.93 180.95,715.96 181.1,715.98 181.25,715.99 181.4,716 181.55,716 181.7,715.99 181.85,715.98 182,715.97 182.15,715.94 182.3,715.91 182.45,715.88 182.6,715.84 182.75,715.8 182.9,715.75 183.05,715.7 183.2,715.64 183.35,715.58 183.5,715.52 183.65,715.45 183.8,715.38 183.95,715.31 184.1,715.24 184.25,715.16 184.4,715.08 184.55,715 184.7,714.92 184.85,714.84 185,714.75 185.15,714.67 185.3,714.58 185.45,714.5 185.6,714.41 185.75,714.33 185.9,714.24 186.05,714.14 186.2,714.03 186.35,713.91 186.5,713.78 186.65,713.65 186.8,713.5 186.95,713.35 187.1,713.19 187.25,713.03 187.4,712.86 187.55,712.69 187.7,712.52 187.85,712.34 188,712.16 188.15,711.98 188.3,711.8 188.45,711.63 188.6,711.45 188.75,711.28 188.9,711.11 189.05,710.94 189.2,710.78 189.35,710.63 189.5,710.48 189.65,710.34 189.8,710.21 189.95,710.08 190.1,709.97 190.25,709.87 190.4,709.76 190.55,709.66 190.7,709.55 190.85,709.45 191,709.34 191.15,709.24 191.3,709.13 191.45,709.03 191.6,708.92 191.75,708.82 191.9,708.72 192.05,708.62 192.2,708.53 192.35,708.44 192.5,708.35 192.65,708.26 192.8,708.18 192.95,708.11 193.1,708.04 193.25,707.98 193.4,707.92 193.55,707.86 193.7,707.82 193.85,707.78 194,707.75 194.15,707.72 194.3,707.71 194.45,707.7 194.6,707.7 194.75,707.71 194.9,707.71 195.05,707.73 195.2,707.74 195.35,707.76 195.5,707.78 195.65,707.81 195.8,707.83 195.95,707.86 196.1,707.9 196.25,707.93 196.4,707.97 196.55,708.01 196.7,708.05 196.85,708.09 197,708.14 197.15,708.19 197.3,708.23 197.45,708.28 197.6,708.33 197.75,708.39 197.9,708.44 198.05,708.49 198.2,708.55 198.35,708.6 198.5,708.65 198.65,708.71 198.8,708.76 198.95,708.82 199.1,708.88 199.25,708.96 199.4,709.05 199.55,709.14 199.7,709.25 199.85,709.36 200,709.48 200.15,709.6 200.3,709.73 200.45,709.86 200.6,710 200.75,710.13 200.9,710.27 201.05,710.4 201.2,710.54 201.35,710.67 201.5,710.8 201.65,710.92 201.8,711.04 201.95,711.15 202.1,711.26 202.25,711.35 202.4,711.44 202.55,711.51 202.7,711.58 202.85,711.63 203,711.67 203.15,711.69 203.3,711.7 203.45,711.68 203.6,711.64 203.75,711.57 203.9,711.47 204.05,711.36 204.2,711.21 204.35,711.05 204.5,710.88 204.65,710.68 204.8,710.47 204.95,710.25 205.1,710.02 205.25,709.78 205.4,709.54 205.55,709.29 205.7,709.03 205.85,708.78 206,708.52 206.15,708.27 206.3,708.02 206.45,707.78 206.6,707.54 206.75,707.27 206.9,706.97 207.05,706.66 207.2,706.32 207.35,705.97 207.5,705.61 207.65,705.24 207.8,704.86 207.95,704.48 208.1,704.09 208.25,703.71 208.4,703.34 208.55,702.97 208.7,702.62 208.85,702.28 209,701.97 209.15,701.67 209.3,701.39 209.45,701.15 209.6,700.93 209.75,700.75 209.9,700.6 210.05,700.45 210.2,700.3 210.35,700.16 210.5,700.01 210.65,699.87 210.8,699.73 210.95,699.6 211.1,699.46 211.25,699.33 211.4,699.21 211.55,699.09 211.7,698.97 211.85,698.86 212,698.75 212.15,698.64 212.3,698.55 212.45,698.46 212.6,698.37 212.75,698.29 212.9,698.22 213.05,698.15 213.2,698.09 213.35,698.04 213.5,698 213.65,697.96 213.8,697.93 213.95,697.91 214.1,697.9 214.25,697.9 214.4,697.9 214.55,697.9 214.7,697.9 214.85,697.9 215,697.9 215.15,697.9 215.3,697.9 215.45,697.9 215.6,697.9 215.75,697.9 215.9,697.9 216.05,697.9 216.2,697.9 216.35,697.9 216.5,697.9 216.65,697.9 216.8,697.9 216.95,697.9 217.1,697.9 217.25,697.9 217.4,697.9 217.55,697.9 217.7,697.9 217.85,697.9 218,697.9 218.15,697.9 218.3,697.9 218.45,697.9 218.6,697.9 218.75,697.9 218.9,697.92 219.05,697.93 219.2,697.96 219.35,697.99 219.5,698.02 219.65,698.06 219.8,698.11 219.95,698.16 220.1,698.21 220.25,698.26 220.4,698.32 220.55,698.37 220.7,698.43 220.85,698.49 221,698.55 221.15,698.6 221.3,698.66 221.45,698.71 221.6,698.76 221.75,698.81 221.9,698.85 222.05,698.89 222.2,698.92 222.35,698.95 222.5,698.97 222.65,698.99 222.8,699 222.95,699 223.1,698.99 223.25,698.97 223.4,698.94 223.55,698.91 223.7,698.86 223.85,698.81 224,698.75 224.15,698.68 224.3,698.61 224.45,698.53 224.6,698.45 224.75,698.37 224.9,698.28 225.05,698.18 225.2,698.09 225.35,697.99 225.5,697.89 225.65,697.79 225.8,697.69 225.95,697.59 226.1,697.49 226.25,697.39 226.4,697.3 226.55,697.2 226.7,697.12 226.85,697.03 227,696.95 227.15,696.87 227.3,696.8 227.45,696.73 227.6,696.67 227.75,696.61 227.9,696.55 228.05,696.5 228.2,696.44 228.35,696.39 228.5,696.33 228.65,696.27 228.8,696.22 228.95,696.16 229.1,696.1 229.25,696.03 229.4,695.96 229.55,695.89 229.7,695.81 229.85,695.73 230,695.64 230.15,695.54 230.3,695.42 230.45,695.3 230.6,695.17 230.75,695.03 230.9,694.88 231.05,694.74 231.2,694.59 231.35,694.44 231.5,694.3 231.65,694.15 231.8,693.99 231.95,693.82 232.1,693.63 232.25,693.44 232.4,693.23 232.55,693.03 232.7,692.82 232.85,692.61 233,692.41 233.15,692.22 233.3,692.05 233.45,691.88 233.6,691.74 233.75,691.62 233.9,691.52 234.05,691.45 234.2,691.41 234.35,691.4 234.5,691.44 234.65,691.51 234.8,691.62 234.95,691.77 235.1,691.94 235.25,692.14 235.4,692.37 235.55,692.61 235.7,692.88 235.85,693.16 236,693.45 236.15,693.75 236.3,694.06 236.45,694.38 236.6,694.69 236.75,695 236.9,695.31 237.05,695.6 237.2,695.9 237.35,696.24 237.5,696.61 237.65,697.01 237.8,697.42 237.95,697.86 238.1,698.29 238.25,698.73 238.4,699.16 238.55,699.58 238.7,699.97 238.85,700.34 239,700.67 239.15,700.96 239.3,701.2 239.45,701.42 239.6,701.63 239.75,701.85 239.9,702.06 240.05,702.26 240.2,702.45 240.35,702.63 240.5,702.8 240.65,702.96 240.8,703.09 240.95,703.2 241.1,703.29 241.25,703.36 241.4,703.39 241.55,703.4 241.7,703.36 241.85,703.28 242,703.16 242.15,703.01 242.3,702.82 242.45,702.61 242.6,702.37 242.75,702.11 242.9,701.83 243.05,701.54 243.2,701.24 243.35,700.93 243.5,700.61 243.65,700.29 243.8,699.98 243.95,699.67 244.1,699.38 244.25,699.09 244.4,698.82 244.55,698.53 244.7,698.22 244.85,697.91 245,697.58 245.15,697.25 245.3,696.91 245.45,696.56 245.6,696.22 245.75,695.88 245.9,695.54 246.05,695.2 246.2,694.87 246.35,694.55 246.5,694.25 246.65,693.95 246.8,693.68 246.95,693.41 247.1,693.15 247.25,692.89 247.4,692.63 247.55,692.37 247.7,692.12 247.85,691.87 248,691.63 248.15,691.4 248.3,691.19 248.45,690.98 248.6,690.79 248.75,690.62 248.9,690.47 249.05,690.34 249.2,690.23 249.35,690.12 249.5,690.01 249.65,689.9 249.8,689.8 249.95,689.7 250.1,689.61 250.25,689.52 250.4,689.45 250.55,689.38 250.7,689.32 250.85,689.27 251,689.23 251.15,689.21" fill="none" stroke="#222" stroke-width="0.9" stroke-linejoin="round" stroke-linecap="round"/>
<polyline points="54.8,819.3 58.13,816.36 61.47,813.39 64.8,810.4 68.14,807.39 71.47,804.35 74.8,801.3 78.14,798.23 81.47,795.12 84.81,791.93 88.14,788.69 91.47,785.44 94.81,782.24 98.14,779.16 101.47,776.22 104.81,773.36 108.14,770.57 111.48,767.84 114.81,765.16 118.14,762.52 121.48,759.91 124.81,757.34 128.15,754.79 131.48,752.26 134.81,749.74 138.15,747.23 141.48,744.74 144.82,742.28 148.15,739.85 151.48,737.48 154.82,735.15 158.15,732.89 161.48,730.7 164.82,728.57 168.15,726.48 171.49,724.42 174.82,722.41 178.15,720.45 181.49,718.53 184.82,716.67 188.16,714.86 191.49,713.12 194.82,711.43 198.16,709.79 201.49,708.18 204.83,706.62 208.16,705.11 211.49,703.63 214.83,702.19 218.16,700.79 221.49,699.44 224.83,698.12 228.16,696.83 231.5,695.58 234.83,694.36 238.16,693.17 241.5,692.02 244.83,690.91 248.17,689.84 251.5,688.8" fill="none" stroke="#ff3030" stroke-width="1.1" stroke-linejoin="round" stroke-linecap="round"/>
<text x="153.6" y="791.5" font-size="13.4" font-weight="bold" fill="#000">FM(R) = 105.0</text>
<rect x="323.8" y="659.2" width="30.5" height="181.8" fill="#ffff88" stroke="none" stroke-width="0"/>
<rect x="354.3" y="659.2" width="42" height="181.8" fill="#dcfcb9" stroke="none" stroke-width="0"/>
<rect x="396.3" y="659.2" width="139.4" height="181.8" fill="#c8edfe" stroke="none" stroke-width="0"/>
<polygon points="400,659.2 535.7,659.2 535.7,707" fill="#c7f1fe"/>
<line x1="322.8" y1="659.2" x2="322.8" y2="841.6" stroke="#5a5a5a" stroke-width="1.1"/>
<line x1="322.3" y1="841" x2="535.7" y2="841" stroke="#5a5a5a" stroke-width="1.1"/>
<line x1="320.3" y1="839.7" x2="322.8" y2="839.7" stroke="#5a5a5a" stroke-width="1.0"/>
<text x="318.2" y="842.5" font-size="8.8" text-anchor="end" fill="#111">0</text>
<line x1="320.3" y1="814.1" x2="322.8" y2="814.1" stroke="#5a5a5a" stroke-width="1.0"/>
<text x="318.2" y="816.9" font-size="8.8" text-anchor="end" fill="#111">5</text>
<line x1="320.3" y1="788.5" x2="322.8" y2="788.5" stroke="#5a5a5a" stroke-width="1.0"/>
<text x="318.2" y="791.3" font-size="8.8" text-anchor="end" fill="#111">10</text>
<line x1="320.3" y1="762.9" x2="322.8" y2="762.9" stroke="#5a5a5a" stroke-width="1.0"/>
<text x="318.2" y="765.7" font-size="8.8" text-anchor="end" fill="#111">15</text>
<line x1="320.3" y1="737.3" x2="322.8" y2="737.3" stroke="#5a5a5a" stroke-width="1.0"/>
<text x="318.2" y="740.1" font-size="8.8" text-anchor="end" fill="#111">20</text>
<line x1="320.3" y1="711.7" x2="322.8" y2="711.7" stroke="#5a5a5a" stroke-width="1.0"/>
<text x="318.2" y="714.5" font-size="8.8" text-anchor="end" fill="#111">25</text>
<line x1="320.3" y1="686.1" x2="322.8" y2="686.1" stroke="#5a5a5a" stroke-width="1.0"/>
<text x="318.2" y="688.9" font-size="8.8" text-anchor="end" fill="#111">30</text>
<line x1="320.3" y1="660.5" x2="322.8" y2="660.5" stroke="#5a5a5a" stroke-width="1.0"/>
<text x="318.2" y="663.3" font-size="8.8" text-anchor="end" fill="#111">35</text>
<line x1="321.5" y1="826.9" x2="322.8" y2="826.9" stroke="#5a5a5a" stroke-width="0.9"/>
<line x1="321.5" y1="801.3" x2="322.8" y2="801.3" stroke="#5a5a5a" stroke-width="0.9"/>
<line x1="321.5" y1="775.7" x2="322.8" y2="775.7" stroke="#5a5a5a" stroke-width="0.9"/>
<line x1="321.5" y1="750.1" x2="322.8" y2="750.1" stroke="#5a5a5a" stroke-width="0.9"/>
<line x1="321.5" y1="724.5" x2="322.8" y2="724.5" stroke="#5a5a5a" stroke-width="0.9"/>
<line x1="321.5" y1="698.9" x2="322.8" y2="698.9" stroke="#5a5a5a" stroke-width="0.9"/>
<line x1="321.5" y1="673.3" x2="322.8" y2="673.3" stroke="#5a5a5a" stroke-width="0.9"/>
<line x1="323.3" y1="841" x2="323.3" y2="843.6" stroke="#5a5a5a" stroke-width="1.0"/>
<text x="323.3" y="853.5" font-size="8.8" text-anchor="middle" fill="#111">0.00</text>
<line x1="351.52" y1="841" x2="351.52" y2="843.6" stroke="#5a5a5a" stroke-width="1.0"/>
<text x="351.52" y="853.5" font-size="8.8" text-anchor="middle" fill="#111">0.02</text>
<line x1="379.74" y1="841" x2="379.74" y2="843.6" stroke="#5a5a5a" stroke-width="1.0"/>
<text x="379.74" y="853.5" font-size="8.8" text-anchor="middle" fill="#111">0.04</text>
<line x1="407.96" y1="841" x2="407.96" y2="843.6" stroke="#5a5a5a" stroke-width="1.0"/>
<text x="407.96" y="853.5" font-size="8.8" text-anchor="middle" fill="#111">0.06</text>
<line x1="436.18" y1="841" x2="436.18" y2="843.6" stroke="#5a5a5a" stroke-width="1.0"/>
<text x="436.18" y="853.5" font-size="8.8" text-anchor="middle" fill="#111">0.08</text>
<line x1="464.4" y1="841" x2="464.4" y2="843.6" stroke="#5a5a5a" stroke-width="1.0"/>
<text x="464.4" y="853.5" font-size="8.8" text-anchor="middle" fill="#111">0.10</text>
<line x1="492.62" y1="841" x2="492.62" y2="843.6" stroke="#5a5a5a" stroke-width="1.0"/>
<text x="492.62" y="853.5" font-size="8.8" text-anchor="middle" fill="#111">0.12</text>
<line x1="520.84" y1="841" x2="520.84" y2="843.6" stroke="#5a5a5a" stroke-width="1.0"/>
<text x="520.84" y="853.5" font-size="8.8" text-anchor="middle" fill="#111">0.14</text>
<line x1="337.41" y1="841" x2="337.41" y2="842.5" stroke="#5a5a5a" stroke-width="0.9"/>
<line x1="365.63" y1="841" x2="365.63" y2="842.5" stroke="#5a5a5a" stroke-width="0.9"/>
<line x1="393.85" y1="841" x2="393.85" y2="842.5" stroke="#5a5a5a" stroke-width="0.9"/>
<line x1="422.07" y1="841" x2="422.07" y2="842.5" stroke="#5a5a5a" stroke-width="0.9"/>
<line x1="450.29" y1="841" x2="450.29" y2="842.5" stroke="#5a5a5a" stroke-width="0.9"/>
<line x1="478.51" y1="841" x2="478.51" y2="842.5" stroke="#5a5a5a" stroke-width="0.9"/>
<line x1="506.73" y1="841" x2="506.73" y2="842.5" stroke="#5a5a5a" stroke-width="0.9"/>
<line x1="534.95" y1="841" x2="534.95" y2="842.5" stroke="#5a5a5a" stroke-width="0.9"/>
<text x="402.5" y="869.5" font-size="10.7" fill="#111">frequency [Hz]</text>
<text transform="translate(301.0,752.2) rotate(-90)" font-size="10" text-anchor="middle" fill="#111">PSD (low frequency activity) x10<tspan font-size="7.6" dy="-4.4">6</tspan></text>
<polyline points="323.3,839.7 332.7,810.9 341.6,822.9 351.5,836.6 360.7,833.3 370.1,816 379.5,821.3 388.9,833.3 398.4,825.9 407.8,813.7 417.2,805.3 426.5,724.2 436,661.5 445.5,799.7 455.1,837.6 464.6,839 473.9,838.2 483.2,838.2 492.7,838.7 502,838.4 511.5,838.7 521.1,838.4 530.6,838.7" fill="none" stroke="#333" stroke-width="0.8" stroke-linejoin="round" stroke-linecap="round"/>
<rect x="321.5" y="837.9" width="3.6" height="3.6" fill="#000" stroke="none" stroke-width="0"/>
<rect x="330.9" y="809.1" width="3.6" height="3.6" fill="#000" stroke="none" stroke-width="0"/>
<rect x="339.8" y="821.1" width="3.6" height="3.6" fill="#000" stroke="none" stroke-width="0"/>
<rect x="349.7" y="834.8" width="3.6" height="3.6" fill="#000" stroke="none" stroke-width="0"/>
<rect x="358.9" y="831.5" width="3.6" height="3.6" fill="#000" stroke="none" stroke-width="0"/>
<rect x="368.3" y="814.2" width="3.6" height="3.6" fill="#000" stroke="none" stroke-width="0"/>
<rect x="377.7" y="819.5" width="3.6" height="3.6" fill="#000" stroke="none" stroke-width="0"/>
<rect x="387.1" y="831.5" width="3.6" height="3.6" fill="#000" stroke="none" stroke-width="0"/>
<rect x="396.6" y="824.1" width="3.6" height="3.6" fill="#000" stroke="none" stroke-width="0"/>
<rect x="406" y="811.9" width="3.6" height="3.6" fill="#000" stroke="none" stroke-width="0"/>
<rect x="415.4" y="803.5" width="3.6" height="3.6" fill="#000" stroke="none" stroke-width="0"/>
<rect x="424.7" y="722.4" width="3.6" height="3.6" fill="#000" stroke="none" stroke-width="0"/>
<rect x="434.2" y="659.7" width="3.6" height="3.6" fill="#000" stroke="none" stroke-width="0"/>
<rect x="443.7" y="797.9" width="3.6" height="3.6" fill="#000" stroke="none" stroke-width="0"/>
<rect x="453.3" y="835.8" width="3.6" height="3.6" fill="#000" stroke="none" stroke-width="0"/>
<rect x="462.8" y="837.2" width="3.6" height="3.6" fill="#000" stroke="none" stroke-width="0"/>
<rect x="472.1" y="836.4" width="3.6" height="3.6" fill="#000" stroke="none" stroke-width="0"/>
<rect x="481.4" y="836.4" width="3.6" height="3.6" fill="#000" stroke="none" stroke-width="0"/>
<rect x="490.9" y="836.9" width="3.6" height="3.6" fill="#000" stroke="none" stroke-width="0"/>
<rect x="500.2" y="836.6" width="3.6" height="3.6" fill="#000" stroke="none" stroke-width="0"/>
<rect x="509.7" y="836.9" width="3.6" height="3.6" fill="#000" stroke="none" stroke-width="0"/>
<rect x="519.3" y="836.6" width="3.6" height="3.6" fill="#000" stroke="none" stroke-width="0"/>
<rect x="528.8" y="836.9" width="3.6" height="3.6" fill="#000" stroke="none" stroke-width="0"/>
<text x="328" y="676" font-size="12.7" font-weight="bold" fill="#000">ENDO(R)</text>
<text x="360.2" y="707" font-size="12.3" font-weight="bold" fill="#000">NEURO(R)</text>
<text x="448.7" y="784.5" font-size="12.7" font-weight="bold" fill="#000">MYO(R) = HS</text>
</svg>
</body></html>
